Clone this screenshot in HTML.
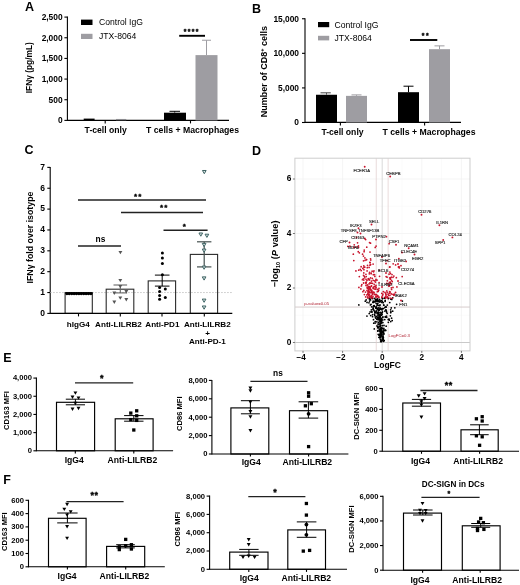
<!DOCTYPE html>
<html><head><meta charset="utf-8"><title>Figure</title>
<style>
html,body{margin:0;padding:0;background:#fff;}
body{width:520px;height:585px;overflow:hidden;}
svg{display:block;}
svg text{font-family:"Liberation Sans", Arial, sans-serif;}
</style></head><body>
<svg width="520" height="585" viewBox="0 0 520 585" shape-rendering="geometricPrecision">
<rect x="0" y="0" width="520" height="585" fill="#fff"/>
<text x="25" y="11.3" font-size="12.5" text-anchor="start" font-weight="bold" fill="#000">A</text>
<text x="252.1" y="12.8" font-size="12.5" text-anchor="start" font-weight="bold" fill="#000">B</text>
<text x="24.4" y="153.6" font-size="12.5" text-anchor="start" font-weight="bold" fill="#000">C</text>
<text x="252" y="155" font-size="12.5" text-anchor="start" font-weight="bold" fill="#000">D</text>
<text x="3.2" y="362.3" font-size="12.5" text-anchor="start" font-weight="bold" fill="#000">E</text>
<text x="3.2" y="483.8" font-size="12.5" text-anchor="start" font-weight="bold" fill="#000">F</text>
<line x1="67.4" y1="16.6" x2="67.4" y2="120.9" stroke="#000" stroke-width="1.1"/>
<line x1="64.4" y1="17.1" x2="67.4" y2="17.1" stroke="#000" stroke-width="1.1"/>
<text x="62.6" y="19.87" font-size="8.4" text-anchor="end" font-weight="bold" fill="#000">2,500</text>
<line x1="64.4" y1="37.76" x2="67.4" y2="37.76" stroke="#000" stroke-width="1.1"/>
<text x="62.6" y="40.53" font-size="8.4" text-anchor="end" font-weight="bold" fill="#000">2,000</text>
<line x1="64.4" y1="58.42" x2="67.4" y2="58.42" stroke="#000" stroke-width="1.1"/>
<text x="62.6" y="61.19" font-size="8.4" text-anchor="end" font-weight="bold" fill="#000">1,500</text>
<line x1="64.4" y1="79.08" x2="67.4" y2="79.08" stroke="#000" stroke-width="1.1"/>
<text x="62.6" y="81.85" font-size="8.4" text-anchor="end" font-weight="bold" fill="#000">1,000</text>
<line x1="64.4" y1="99.74" x2="67.4" y2="99.74" stroke="#000" stroke-width="1.1"/>
<text x="62.6" y="102.51" font-size="8.4" text-anchor="end" font-weight="bold" fill="#000">500</text>
<line x1="64.4" y1="120.4" x2="67.4" y2="120.4" stroke="#000" stroke-width="1.1"/>
<text x="62.6" y="123.17" font-size="8.4" text-anchor="end" font-weight="bold" fill="#000">0</text>
<line x1="67.4" y1="120.4" x2="229" y2="120.4" stroke="#000" stroke-width="1.1"/>
<line x1="105.2" y1="120.4" x2="105.2" y2="123.4" stroke="#000" stroke-width="1.1"/>
<line x1="190.5" y1="120.4" x2="190.5" y2="123.4" stroke="#000" stroke-width="1.1"/>
<line x1="83.7" y1="119.4" x2="94.6" y2="119.4" stroke="#000" stroke-width="1.6"/>
<line x1="116" y1="119.6" x2="126.3" y2="119.6" stroke="#8a8a8e" stroke-width="1.3"/>
<rect x="164" y="112.7" width="22" height="7.7" fill="#000"/>
<line x1="174.7" y1="112.55" x2="174.7" y2="111.3" stroke="#000" stroke-width="1"/>
<line x1="169.5" y1="111.3" x2="180" y2="111.3" stroke="#000" stroke-width="1"/>
<rect x="195.5" y="55.11" width="22" height="65.29" fill="#9e9da2"/>
<line x1="206.5" y1="55.11" x2="206.5" y2="40.24" stroke="#9e9da2" stroke-width="1"/>
<line x1="202" y1="40.24" x2="211" y2="40.24" stroke="#9e9da2" stroke-width="1"/>
<line x1="179.2" y1="35.8" x2="205" y2="35.8" stroke="#000" stroke-width="1.9"/>
<text x="185.1" y="33.55" font-size="6.8" text-anchor="middle" font-weight="bold" fill="#000" stroke="#000" stroke-width="0.35">*</text>
<text x="189.1" y="33.55" font-size="6.8" text-anchor="middle" font-weight="bold" fill="#000" stroke="#000" stroke-width="0.35">*</text>
<text x="193.1" y="33.55" font-size="6.8" text-anchor="middle" font-weight="bold" fill="#000" stroke="#000" stroke-width="0.35">*</text>
<text x="197.1" y="33.55" font-size="6.8" text-anchor="middle" font-weight="bold" fill="#000" stroke="#000" stroke-width="0.35">*</text>
<rect x="81" y="19.6" width="11.5" height="5.4" fill="#000"/>
<text x="99" y="25.3" font-size="8.6" text-anchor="start" font-weight="normal" fill="#000">Control IgG</text>
<rect x="81" y="33.8" width="11.5" height="5.2" fill="#9e9da2"/>
<text x="99" y="39.4" font-size="8.6" text-anchor="start" font-weight="normal" fill="#000">JTX-8064</text>
<text transform="translate(32.3,67.7) rotate(-90)" font-size="8.4" text-anchor="middle" font-weight="bold" fill="#000">IFNγ (pg/mL)</text>
<text x="105.7" y="132.6" font-size="8.65" text-anchor="middle" font-weight="bold" fill="#000">T-cell only</text>
<text x="192.55" y="132.6" font-size="8.7" text-anchor="middle" font-weight="bold" fill="#000">T cells + Macrophages</text>
<line x1="305" y1="18.25" x2="305" y2="123" stroke="#000" stroke-width="1.1"/>
<line x1="302" y1="18.75" x2="305" y2="18.75" stroke="#000" stroke-width="1.1"/>
<text x="299" y="21.52" font-size="8.4" text-anchor="end" font-weight="bold" fill="#000">15,000</text>
<line x1="302" y1="53.33" x2="305" y2="53.33" stroke="#000" stroke-width="1.1"/>
<text x="299" y="56.11" font-size="8.4" text-anchor="end" font-weight="bold" fill="#000">10,000</text>
<line x1="302" y1="87.92" x2="305" y2="87.92" stroke="#000" stroke-width="1.1"/>
<text x="299" y="90.69" font-size="8.4" text-anchor="end" font-weight="bold" fill="#000">5,000</text>
<line x1="302" y1="122.5" x2="305" y2="122.5" stroke="#000" stroke-width="1.1"/>
<text x="299" y="125.27" font-size="8.4" text-anchor="end" font-weight="bold" fill="#000">0</text>
<line x1="305" y1="122.4" x2="461" y2="122.4" stroke="#000" stroke-width="1.1"/>
<line x1="340.4" y1="122.4" x2="340.4" y2="125.4" stroke="#000" stroke-width="1.1"/>
<line x1="424.6" y1="122.4" x2="424.6" y2="125.4" stroke="#000" stroke-width="1.1"/>
<rect x="316" y="94.75" width="21" height="27.65" fill="#000"/>
<line x1="326.5" y1="94.75" x2="326.5" y2="92.8" stroke="#555" stroke-width="1"/>
<line x1="320.5" y1="92.8" x2="330.8" y2="92.8" stroke="#555" stroke-width="1.1"/>
<rect x="346" y="95.87" width="21" height="26.63" fill="#9e9da2"/>
<line x1="356.5" y1="95.87" x2="356.5" y2="94.9" stroke="#9e9da2" stroke-width="1"/>
<line x1="351.5" y1="94.9" x2="361.5" y2="94.9" stroke="#9e9da2" stroke-width="1"/>
<rect x="398" y="92.2" width="21" height="30.3" fill="#000"/>
<line x1="408.5" y1="92.2" x2="408.5" y2="86.19" stroke="#000" stroke-width="1"/>
<line x1="403.5" y1="86.19" x2="413.5" y2="86.19" stroke="#000" stroke-width="1"/>
<rect x="429" y="49.18" width="21" height="73.32" fill="#9e9da2"/>
<line x1="439.5" y1="49.18" x2="439.5" y2="45.86" stroke="#9e9da2" stroke-width="1"/>
<line x1="434.5" y1="45.86" x2="444.5" y2="45.86" stroke="#9e9da2" stroke-width="1"/>
<line x1="410" y1="40" x2="437.3" y2="40" stroke="#000" stroke-width="1.9"/>
<text x="423.1" y="37.65" font-size="6.8" text-anchor="middle" font-weight="bold" fill="#000" stroke="#000" stroke-width="0.35">*</text>
<text x="427.3" y="37.65" font-size="6.8" text-anchor="middle" font-weight="bold" fill="#000" stroke="#000" stroke-width="0.35">*</text>
<rect x="318" y="22" width="11.2" height="5.2" fill="#000"/>
<text x="334.5" y="27.6" font-size="8.6" text-anchor="start" font-weight="normal" fill="#000">Control IgG</text>
<rect x="318" y="35.8" width="11.2" height="4.6" fill="#9e9da2"/>
<text x="334.5" y="41.2" font-size="8.6" text-anchor="start" font-weight="normal" fill="#000">JTX-8064</text>
<text transform="translate(266.6,71.6) rotate(-90)" font-size="9" text-anchor="middle" font-weight="bold" fill="#000">Number of CD8<tspan dy="-3" font-size="5.5">+</tspan><tspan dy="3"> cells</tspan></text>
<text x="342.5" y="134.7" font-size="8.65" text-anchor="middle" font-weight="bold" fill="#000">T-cell only</text>
<text x="429.05" y="134.5" font-size="8.7" text-anchor="middle" font-weight="bold" fill="#000">T cells + Macrophages</text>
<line x1="50.2" y1="166.88" x2="50.2" y2="313.9" stroke="#000" stroke-width="1.1"/>
<line x1="47.3" y1="167.38" x2="50.2" y2="167.38" stroke="#000" stroke-width="1.1"/>
<text x="45" y="169.68" font-size="8.5" text-anchor="end" font-weight="bold" fill="#000">7</text>
<line x1="47.3" y1="188.24" x2="50.2" y2="188.24" stroke="#000" stroke-width="1.1"/>
<text x="45" y="190.54" font-size="8.5" text-anchor="end" font-weight="bold" fill="#000">6</text>
<line x1="47.3" y1="209.1" x2="50.2" y2="209.1" stroke="#000" stroke-width="1.1"/>
<text x="45" y="211.4" font-size="8.5" text-anchor="end" font-weight="bold" fill="#000">5</text>
<line x1="47.3" y1="229.96" x2="50.2" y2="229.96" stroke="#000" stroke-width="1.1"/>
<text x="45" y="232.26" font-size="8.5" text-anchor="end" font-weight="bold" fill="#000">4</text>
<line x1="47.3" y1="250.82" x2="50.2" y2="250.82" stroke="#000" stroke-width="1.1"/>
<text x="45" y="253.12" font-size="8.5" text-anchor="end" font-weight="bold" fill="#000">3</text>
<line x1="47.3" y1="271.68" x2="50.2" y2="271.68" stroke="#000" stroke-width="1.1"/>
<text x="45" y="273.98" font-size="8.5" text-anchor="end" font-weight="bold" fill="#000">2</text>
<line x1="47.3" y1="292.54" x2="50.2" y2="292.54" stroke="#000" stroke-width="1.1"/>
<text x="45" y="294.84" font-size="8.5" text-anchor="end" font-weight="bold" fill="#000">1</text>
<line x1="47.3" y1="313.4" x2="50.2" y2="313.4" stroke="#000" stroke-width="1.1"/>
<text x="45" y="315.7" font-size="8.5" text-anchor="end" font-weight="bold" fill="#000">0</text>
<line x1="50.2" y1="292.54" x2="232" y2="292.54" stroke="#b8b8b8" stroke-width="0.8" stroke-dasharray="1.5,1.5"/>
<rect x="65.1" y="292.54" width="27.2" height="20.86" fill="none" stroke="#2a2a2a" stroke-width="1.1"/>
<rect x="106.2" y="289.2" width="27.6" height="24.2" fill="none" stroke="#2a2a2a" stroke-width="1.1"/>
<rect x="148.2" y="280.9" width="27.4" height="32.5" fill="none" stroke="#2a2a2a" stroke-width="1.1"/>
<rect x="190.3" y="254.4" width="27.3" height="59" fill="none" stroke="#2a2a2a" stroke-width="1.1"/>
<line x1="50.2" y1="313.4" x2="232.3" y2="313.4" stroke="#000" stroke-width="1.1"/>
<line x1="78.5" y1="313.4" x2="78.5" y2="316.4" stroke="#000" stroke-width="1.1"/>
<line x1="120.3" y1="313.4" x2="120.3" y2="316.4" stroke="#000" stroke-width="1.1"/>
<line x1="162" y1="313.4" x2="162" y2="316.4" stroke="#000" stroke-width="1.1"/>
<line x1="204.3" y1="313.4" x2="204.3" y2="316.4" stroke="#000" stroke-width="1.1"/>
<circle cx="66.9" cy="293.6" r="1.7" fill="#000"/>
<circle cx="69.3" cy="293.6" r="1.7" fill="#000"/>
<circle cx="71.7" cy="293.6" r="1.7" fill="#000"/>
<circle cx="74.1" cy="293.6" r="1.7" fill="#000"/>
<circle cx="76.5" cy="293.6" r="1.7" fill="#000"/>
<circle cx="78.9" cy="293.6" r="1.7" fill="#000"/>
<circle cx="81.3" cy="293.6" r="1.7" fill="#000"/>
<circle cx="83.7" cy="293.6" r="1.7" fill="#000"/>
<circle cx="86.1" cy="293.6" r="1.7" fill="#000"/>
<circle cx="88.5" cy="293.6" r="1.7" fill="#000"/>
<circle cx="90.9" cy="293.6" r="1.7" fill="#000"/>
<line x1="120.3" y1="285" x2="120.3" y2="292.9" stroke="#666" stroke-width="1.1"/>
<line x1="113.5" y1="285" x2="127.1" y2="285" stroke="#666" stroke-width="1.1"/>
<line x1="113.5" y1="292.9" x2="127.1" y2="292.9" stroke="#666" stroke-width="1.1"/>
<polygon points="118.45,250.9 122.35,250.9 120.4,254.3" fill="#555"/>
<polygon points="118.35,278.9 122.25,278.9 120.3,282.3" fill="#555"/>
<polygon points="118.35,284.9 122.25,284.9 120.3,288.3" fill="#555"/>
<polygon points="112.35,291.5 116.25,291.5 114.3,294.9" fill="#555"/>
<polygon points="124.35,290.1 128.25,290.1 126.3,293.5" fill="#555"/>
<polygon points="118.35,296.4 122.25,296.4 120.3,299.8" fill="#555"/>
<polygon points="124.35,298 128.25,298 126.3,301.4" fill="#555"/>
<polygon points="112.35,300.5 116.25,300.5 114.3,303.9" fill="#555"/>
<line x1="162.2" y1="275.1" x2="162.2" y2="286.1" stroke="#000" stroke-width="1"/>
<line x1="154.9" y1="275.1" x2="169.5" y2="275.1" stroke="#000" stroke-width="1"/>
<line x1="154.9" y1="286.1" x2="169.5" y2="286.1" stroke="#000" stroke-width="1"/>
<circle cx="162.4" cy="253.1" r="1.5" fill="#000"/>
<circle cx="162.4" cy="258" r="1.5" fill="#000"/>
<circle cx="162.4" cy="263.4" r="1.5" fill="#000"/>
<circle cx="162.4" cy="274.8" r="1.5" fill="#000"/>
<circle cx="159.6" cy="287.4" r="1.5" fill="#000"/>
<circle cx="165.3" cy="289" r="1.5" fill="#000"/>
<circle cx="159.6" cy="291.5" r="1.5" fill="#000"/>
<circle cx="159.6" cy="295.6" r="1.5" fill="#000"/>
<circle cx="165.3" cy="297.5" r="1.5" fill="#000"/>
<circle cx="159.6" cy="299.2" r="1.5" fill="#000"/>
<line x1="204.2" y1="241.8" x2="204.2" y2="266.9" stroke="#45504f" stroke-width="1.2"/>
<line x1="197" y1="241.8" x2="211.4" y2="241.8" stroke="#45504f" stroke-width="1.2"/>
<line x1="197" y1="266.9" x2="211.4" y2="266.9" stroke="#45504f" stroke-width="1.2"/>
<polygon points="202.45,170.49 206.15,170.49 204.3,173.71" fill="#dfe8e8" stroke="#3e6464" stroke-width="1"/>
<polygon points="198.95,232.99 202.65,232.99 200.8,236.21" fill="#dfe8e8" stroke="#3e6464" stroke-width="1"/>
<polygon points="205.05,234.19 208.75,234.19 206.9,237.41" fill="#dfe8e8" stroke="#3e6464" stroke-width="1"/>
<polygon points="202.25,243.39 205.95,243.39 204.1,246.61" fill="#dfe8e8" stroke="#3e6464" stroke-width="1"/>
<polygon points="202.25,249.09 205.95,249.09 204.1,252.31" fill="#dfe8e8" stroke="#3e6464" stroke-width="1"/>
<polygon points="202.25,266.09 205.95,266.09 204.1,269.31" fill="#dfe8e8" stroke="#3e6464" stroke-width="1"/>
<polygon points="202.25,276.89 205.95,276.89 204.1,280.11" fill="#dfe8e8" stroke="#3e6464" stroke-width="1"/>
<polygon points="202.25,299.09 205.95,299.09 204.1,302.31" fill="#dfe8e8" stroke="#3e6464" stroke-width="1"/>
<polygon points="202.25,305.99 205.95,305.99 204.1,309.21" fill="#dfe8e8" stroke="#3e6464" stroke-width="1"/>
<line x1="78" y1="200" x2="206" y2="200" stroke="#222" stroke-width="1.4"/>
<text x="135.65" y="198.76" font-size="8" text-anchor="middle" font-weight="bold" fill="#000" stroke="#000" stroke-width="0.35">*</text>
<text x="139.75" y="198.76" font-size="8" text-anchor="middle" font-weight="bold" fill="#000" stroke="#000" stroke-width="0.35">*</text>
<line x1="121" y1="212.5" x2="203" y2="212.5" stroke="#222" stroke-width="1.4"/>
<text x="161.65" y="209.86" font-size="8" text-anchor="middle" font-weight="bold" fill="#000" stroke="#000" stroke-width="0.35">*</text>
<text x="165.75" y="209.86" font-size="8" text-anchor="middle" font-weight="bold" fill="#000" stroke="#000" stroke-width="0.35">*</text>
<line x1="163.5" y1="230.3" x2="207.6" y2="230.3" stroke="#222" stroke-width="1.4"/>
<text x="184.3" y="229.16" font-size="8" text-anchor="middle" font-weight="bold" fill="#000" stroke="#000" stroke-width="0.35">*</text>
<line x1="78" y1="246" x2="121" y2="246" stroke="#222" stroke-width="1.4"/>
<text x="100.5" y="242.2" font-size="8.4" text-anchor="middle" font-weight="bold" fill="#000">ns</text>
<text transform="translate(33,237.5) rotate(-90)" font-size="8.8" text-anchor="middle" font-weight="bold" fill="#000">IFNγ fold over isotype</text>
<text x="78.3" y="327" font-size="8.1" text-anchor="middle" font-weight="bold" fill="#000">hIgG4</text>
<text x="118.5" y="327" font-size="8.1" text-anchor="middle" font-weight="bold" fill="#000">Anti-LILRB2</text>
<text x="162.4" y="327" font-size="8.1" text-anchor="middle" font-weight="bold" fill="#000">Anti-PD1</text>
<text x="207.3" y="326.6" font-size="8.1" text-anchor="middle" font-weight="bold" fill="#000">Anti-LILRB2</text>
<text x="207.7" y="335.6" font-size="8.1" text-anchor="middle" font-weight="bold" fill="#000">+</text>
<text x="207.4" y="344.3" font-size="8.1" text-anchor="middle" font-weight="bold" fill="#000">Anti-PD-1</text>
<rect x="294.9" y="158.2" width="175.1" height="192.7" fill="#fff"/>
<clipPath id="dclip"><rect x="294.9" y="158.2" width="175.1" height="192.7"/></clipPath>
<g clip-path="url(#dclip)">
<line x1="322.8" y1="158.2" x2="322.8" y2="350.9" stroke="#f7f7f7" stroke-width="0.5"/>
<line x1="362.4" y1="158.2" x2="362.4" y2="350.9" stroke="#f7f7f7" stroke-width="0.5"/>
<line x1="402" y1="158.2" x2="402" y2="350.9" stroke="#f7f7f7" stroke-width="0.5"/>
<line x1="441.6" y1="158.2" x2="441.6" y2="350.9" stroke="#f7f7f7" stroke-width="0.5"/>
<line x1="294.9" y1="315.25" x2="470" y2="315.25" stroke="#f7f7f7" stroke-width="0.5"/>
<line x1="294.9" y1="260.75" x2="470" y2="260.75" stroke="#f7f7f7" stroke-width="0.5"/>
<line x1="294.9" y1="206.25" x2="470" y2="206.25" stroke="#f7f7f7" stroke-width="0.5"/>
<line x1="303" y1="158.2" x2="303" y2="350.9" stroke="#f0f0f0" stroke-width="0.7"/>
<line x1="342.6" y1="158.2" x2="342.6" y2="350.9" stroke="#f0f0f0" stroke-width="0.7"/>
<line x1="421.8" y1="158.2" x2="421.8" y2="350.9" stroke="#f0f0f0" stroke-width="0.7"/>
<line x1="461.4" y1="158.2" x2="461.4" y2="350.9" stroke="#f0f0f0" stroke-width="0.7"/>
<line x1="294.9" y1="288" x2="470" y2="288" stroke="#f0f0f0" stroke-width="0.7"/>
<line x1="294.9" y1="233.5" x2="470" y2="233.5" stroke="#f0f0f0" stroke-width="0.7"/>
<line x1="294.9" y1="179" x2="470" y2="179" stroke="#f0f0f0" stroke-width="0.7"/>
<line x1="294.9" y1="342.5" x2="470" y2="342.5" stroke="#c9c9c9" stroke-width="1"/>
<line x1="294.9" y1="307.05" x2="470" y2="307.05" stroke="#d2c6c6" stroke-width="0.9"/>
<line x1="382.2" y1="158.2" x2="382.2" y2="350.9" stroke="#d0d0d0" stroke-width="0.8"/>
<line x1="376.26" y1="158.2" x2="376.26" y2="350.9" stroke="#e0cccc" stroke-width="0.7"/>
<line x1="388.14" y1="158.2" x2="388.14" y2="350.9" stroke="#e0cccc" stroke-width="0.7"/>
<text x="304.2" y="304.6" font-size="4.3" text-anchor="start" font-weight="normal" fill="#b02030">p-value=0.05</text>
<text x="388.6" y="336.6" font-size="4.3" text-anchor="start" font-weight="normal" fill="#b02030">LogFC=0.3</text>
<circle cx="373.48" cy="319.73" r="0.88" fill="#000"/>
<circle cx="377" cy="319.16" r="0.88" fill="#000"/>
<circle cx="377.5" cy="317.38" r="0.88" fill="#000"/>
<circle cx="378.11" cy="317.21" r="0.88" fill="#000"/>
<circle cx="378.81" cy="312.33" r="0.88" fill="#000"/>
<circle cx="379.42" cy="326.28" r="0.88" fill="#000"/>
<circle cx="382.86" cy="336.69" r="0.88" fill="#000"/>
<circle cx="380.34" cy="339.49" r="0.88" fill="#000"/>
<circle cx="382.63" cy="298.49" r="0.88" fill="#000"/>
<circle cx="377.43" cy="312.91" r="0.88" fill="#000"/>
<circle cx="383.72" cy="333.21" r="0.88" fill="#000"/>
<circle cx="382.37" cy="338.44" r="0.88" fill="#000"/>
<circle cx="381.23" cy="331.6" r="0.88" fill="#000"/>
<circle cx="380.12" cy="319.24" r="0.88" fill="#000"/>
<circle cx="381.42" cy="320.24" r="0.88" fill="#000"/>
<circle cx="374.9" cy="311.91" r="0.88" fill="#000"/>
<circle cx="377.46" cy="317.72" r="0.88" fill="#000"/>
<circle cx="378.45" cy="327.44" r="0.88" fill="#000"/>
<circle cx="384.79" cy="297.9" r="0.88" fill="#000"/>
<circle cx="377.77" cy="309.19" r="0.88" fill="#000"/>
<circle cx="380.61" cy="325.75" r="0.88" fill="#000"/>
<circle cx="383.37" cy="337.83" r="0.88" fill="#000"/>
<circle cx="371.69" cy="306.86" r="0.88" fill="#000"/>
<circle cx="382.89" cy="322.58" r="0.88" fill="#000"/>
<circle cx="376.61" cy="299.41" r="0.88" fill="#000"/>
<circle cx="381.02" cy="330.65" r="0.88" fill="#000"/>
<circle cx="365.27" cy="301.24" r="0.88" fill="#000"/>
<circle cx="381.23" cy="322.1" r="0.88" fill="#000"/>
<circle cx="380.26" cy="337.67" r="0.88" fill="#000"/>
<circle cx="377.82" cy="327.83" r="0.88" fill="#000"/>
<circle cx="379.94" cy="336.88" r="0.88" fill="#000"/>
<circle cx="386.07" cy="307.19" r="0.88" fill="#000"/>
<circle cx="381.76" cy="335.23" r="0.88" fill="#000"/>
<circle cx="382.89" cy="338.42" r="0.88" fill="#000"/>
<circle cx="379.61" cy="305.65" r="0.88" fill="#000"/>
<circle cx="382.77" cy="319.94" r="0.88" fill="#000"/>
<circle cx="381.09" cy="331.57" r="0.88" fill="#000"/>
<circle cx="376.53" cy="311.77" r="0.88" fill="#000"/>
<circle cx="380.71" cy="335.31" r="0.88" fill="#000"/>
<circle cx="381.41" cy="327.82" r="0.88" fill="#000"/>
<circle cx="377.68" cy="298.92" r="0.88" fill="#000"/>
<circle cx="373.63" cy="302.22" r="0.88" fill="#000"/>
<circle cx="377.89" cy="330.61" r="0.88" fill="#000"/>
<circle cx="382.47" cy="311.84" r="0.88" fill="#000"/>
<circle cx="383.01" cy="336.17" r="0.88" fill="#000"/>
<circle cx="380.64" cy="328.36" r="0.88" fill="#000"/>
<circle cx="376.06" cy="306.61" r="0.88" fill="#000"/>
<circle cx="383.22" cy="337.65" r="0.88" fill="#000"/>
<circle cx="380.91" cy="336.72" r="0.88" fill="#000"/>
<circle cx="377.36" cy="313.5" r="0.88" fill="#000"/>
<circle cx="373.73" cy="323.23" r="0.88" fill="#000"/>
<circle cx="381.45" cy="318.39" r="0.88" fill="#000"/>
<circle cx="380.1" cy="314.6" r="0.88" fill="#000"/>
<circle cx="380.59" cy="333.38" r="0.88" fill="#000"/>
<circle cx="378.12" cy="301.31" r="0.88" fill="#000"/>
<circle cx="379.85" cy="331.62" r="0.88" fill="#000"/>
<circle cx="380.05" cy="307.92" r="0.88" fill="#000"/>
<circle cx="375.54" cy="299.71" r="0.88" fill="#000"/>
<circle cx="373.54" cy="302.33" r="0.88" fill="#000"/>
<circle cx="380.79" cy="335.98" r="0.88" fill="#000"/>
<circle cx="383.38" cy="339.68" r="0.88" fill="#000"/>
<circle cx="377.35" cy="309.31" r="0.88" fill="#000"/>
<circle cx="382.08" cy="328.42" r="0.88" fill="#000"/>
<circle cx="377.69" cy="326.74" r="0.88" fill="#000"/>
<circle cx="381.18" cy="332.32" r="0.88" fill="#000"/>
<circle cx="380.16" cy="329.76" r="0.88" fill="#000"/>
<circle cx="381.46" cy="315.23" r="0.88" fill="#000"/>
<circle cx="378.06" cy="327.34" r="0.88" fill="#000"/>
<circle cx="376.98" cy="300.97" r="0.88" fill="#000"/>
<circle cx="381.06" cy="327.85" r="0.88" fill="#000"/>
<circle cx="381.16" cy="320.01" r="0.88" fill="#000"/>
<circle cx="380.61" cy="323.36" r="0.88" fill="#000"/>
<circle cx="380.81" cy="314.7" r="0.88" fill="#000"/>
<circle cx="379.79" cy="301.99" r="0.88" fill="#000"/>
<circle cx="372.7" cy="298.55" r="0.88" fill="#000"/>
<circle cx="374.53" cy="314.19" r="0.88" fill="#000"/>
<circle cx="381.9" cy="334.08" r="0.88" fill="#000"/>
<circle cx="376.97" cy="301.24" r="0.88" fill="#000"/>
<circle cx="378.72" cy="309.46" r="0.88" fill="#000"/>
<circle cx="378.21" cy="312.07" r="0.88" fill="#000"/>
<circle cx="378.99" cy="318.46" r="0.88" fill="#000"/>
<circle cx="372.45" cy="297.83" r="0.88" fill="#000"/>
<circle cx="379.65" cy="337.54" r="0.88" fill="#000"/>
<circle cx="374.91" cy="301.63" r="0.88" fill="#000"/>
<circle cx="375.9" cy="308.02" r="0.88" fill="#000"/>
<circle cx="369.63" cy="301.06" r="0.88" fill="#000"/>
<circle cx="377.97" cy="324.11" r="0.88" fill="#000"/>
<circle cx="368.97" cy="302.76" r="0.88" fill="#000"/>
<circle cx="381.08" cy="321.24" r="0.88" fill="#000"/>
<circle cx="372.55" cy="314.67" r="0.88" fill="#000"/>
<circle cx="375.15" cy="312.53" r="0.88" fill="#000"/>
<circle cx="381.49" cy="313.19" r="0.88" fill="#000"/>
<circle cx="378.86" cy="337.27" r="0.88" fill="#000"/>
<circle cx="367" cy="302.42" r="0.88" fill="#000"/>
<circle cx="373.27" cy="308.37" r="0.88" fill="#000"/>
<circle cx="382.1" cy="314.33" r="0.88" fill="#000"/>
<circle cx="380.18" cy="320.24" r="0.88" fill="#000"/>
<circle cx="376.38" cy="307.5" r="0.88" fill="#000"/>
<circle cx="381.22" cy="340.24" r="0.88" fill="#000"/>
<circle cx="379.49" cy="329.68" r="0.88" fill="#000"/>
<circle cx="373.06" cy="309.56" r="0.88" fill="#000"/>
<circle cx="376.84" cy="300.85" r="0.88" fill="#000"/>
<circle cx="382.62" cy="328.47" r="0.88" fill="#000"/>
<circle cx="378.34" cy="310.38" r="0.88" fill="#000"/>
<circle cx="383.25" cy="331" r="0.88" fill="#000"/>
<circle cx="384.83" cy="311.11" r="0.88" fill="#000"/>
<circle cx="381.49" cy="320.18" r="0.88" fill="#000"/>
<circle cx="376.25" cy="310.87" r="0.88" fill="#000"/>
<circle cx="377.85" cy="331.19" r="0.88" fill="#000"/>
<circle cx="379.97" cy="301.09" r="0.88" fill="#000"/>
<circle cx="372.91" cy="302.4" r="0.88" fill="#000"/>
<circle cx="382.47" cy="325.69" r="0.88" fill="#000"/>
<circle cx="378.2" cy="334.29" r="0.88" fill="#000"/>
<circle cx="377.31" cy="303.63" r="0.88" fill="#000"/>
<circle cx="380.7" cy="309.05" r="0.88" fill="#000"/>
<circle cx="380.89" cy="332.63" r="0.88" fill="#000"/>
<circle cx="379.19" cy="319.8" r="0.88" fill="#000"/>
<circle cx="381.59" cy="321.38" r="0.88" fill="#000"/>
<circle cx="375.5" cy="312.5" r="0.88" fill="#000"/>
<circle cx="377.33" cy="304" r="0.88" fill="#000"/>
<circle cx="374.75" cy="298.49" r="0.88" fill="#000"/>
<circle cx="382.61" cy="340.14" r="0.88" fill="#000"/>
<circle cx="383.2" cy="302.69" r="0.88" fill="#000"/>
<circle cx="380.06" cy="314.76" r="0.88" fill="#000"/>
<circle cx="380.52" cy="326.03" r="0.88" fill="#000"/>
<circle cx="381.27" cy="334.31" r="0.88" fill="#000"/>
<circle cx="384.77" cy="319.62" r="0.88" fill="#000"/>
<circle cx="381.51" cy="329.34" r="0.88" fill="#000"/>
<circle cx="383.99" cy="334.05" r="0.88" fill="#000"/>
<circle cx="380.68" cy="319.98" r="0.88" fill="#000"/>
<circle cx="374.96" cy="312.33" r="0.88" fill="#000"/>
<circle cx="370.04" cy="299.39" r="0.88" fill="#000"/>
<circle cx="379.35" cy="310.12" r="0.88" fill="#000"/>
<circle cx="383.38" cy="332.16" r="0.88" fill="#000"/>
<circle cx="380.7" cy="341.55" r="0.88" fill="#000"/>
<circle cx="381.82" cy="332.14" r="0.88" fill="#000"/>
<circle cx="378.66" cy="327.71" r="0.88" fill="#000"/>
<circle cx="382.96" cy="316.85" r="0.88" fill="#000"/>
<circle cx="378.63" cy="312.96" r="0.88" fill="#000"/>
<circle cx="373.62" cy="305.85" r="0.88" fill="#000"/>
<circle cx="385.1" cy="301.4" r="0.88" fill="#000"/>
<circle cx="382.29" cy="308.6" r="0.88" fill="#000"/>
<circle cx="379.28" cy="334.61" r="0.88" fill="#000"/>
<circle cx="378.49" cy="301.25" r="0.88" fill="#000"/>
<circle cx="375.1" cy="323.01" r="0.88" fill="#000"/>
<circle cx="374.11" cy="305.66" r="0.88" fill="#000"/>
<circle cx="370.56" cy="299.94" r="0.88" fill="#000"/>
<circle cx="381.77" cy="330.89" r="0.88" fill="#000"/>
<circle cx="380.05" cy="308.62" r="0.88" fill="#000"/>
<circle cx="373.16" cy="308.79" r="0.88" fill="#000"/>
<circle cx="385.73" cy="330.48" r="0.88" fill="#000"/>
<circle cx="369.21" cy="298.67" r="0.88" fill="#000"/>
<circle cx="379.66" cy="316.16" r="0.88" fill="#000"/>
<circle cx="373.24" cy="301.25" r="0.88" fill="#000"/>
<circle cx="376.13" cy="303.35" r="0.88" fill="#000"/>
<circle cx="380.51" cy="320.22" r="0.88" fill="#000"/>
<circle cx="379.3" cy="315.6" r="0.88" fill="#000"/>
<circle cx="380.93" cy="340.33" r="0.88" fill="#000"/>
<circle cx="383.81" cy="305.17" r="0.88" fill="#000"/>
<circle cx="382.68" cy="332.45" r="0.88" fill="#000"/>
<circle cx="380.55" cy="324.86" r="0.88" fill="#000"/>
<circle cx="380.53" cy="333.66" r="0.88" fill="#000"/>
<circle cx="378.13" cy="317.01" r="0.88" fill="#000"/>
<circle cx="371.35" cy="309.92" r="0.88" fill="#000"/>
<circle cx="366.15" cy="299.88" r="0.88" fill="#000"/>
<circle cx="382.17" cy="336.95" r="0.88" fill="#000"/>
<circle cx="379.29" cy="330.09" r="0.88" fill="#000"/>
<circle cx="377.32" cy="308.35" r="0.88" fill="#000"/>
<circle cx="371.86" cy="311.96" r="0.88" fill="#000"/>
<circle cx="377.96" cy="315.2" r="0.88" fill="#000"/>
<circle cx="376.99" cy="325.91" r="0.88" fill="#000"/>
<circle cx="382.31" cy="301.62" r="0.88" fill="#000"/>
<circle cx="384.26" cy="330.72" r="0.88" fill="#000"/>
<circle cx="372.55" cy="316.69" r="0.88" fill="#000"/>
<circle cx="379.95" cy="314.66" r="0.88" fill="#000"/>
<circle cx="382.71" cy="317.57" r="0.88" fill="#000"/>
<circle cx="387.16" cy="313.34" r="0.88" fill="#000"/>
<circle cx="380.49" cy="317.03" r="0.88" fill="#000"/>
<circle cx="380.9" cy="321.96" r="0.88" fill="#000"/>
<circle cx="375.63" cy="318.08" r="0.88" fill="#000"/>
<circle cx="382.1" cy="309.86" r="0.88" fill="#000"/>
<circle cx="381.09" cy="321.39" r="0.88" fill="#000"/>
<circle cx="379.57" cy="299.45" r="0.88" fill="#000"/>
<circle cx="378.29" cy="318.84" r="0.88" fill="#000"/>
<circle cx="378.73" cy="334.77" r="0.88" fill="#000"/>
<circle cx="379.95" cy="301.62" r="0.88" fill="#000"/>
<circle cx="378.56" cy="318.7" r="0.88" fill="#000"/>
<circle cx="380.47" cy="312.82" r="0.88" fill="#000"/>
<circle cx="381.76" cy="300.67" r="0.88" fill="#000"/>
<circle cx="384.2" cy="340.7" r="0.88" fill="#000"/>
<circle cx="381.61" cy="331.41" r="0.88" fill="#000"/>
<circle cx="383.98" cy="325.44" r="0.88" fill="#000"/>
<circle cx="379.23" cy="323.95" r="0.88" fill="#000"/>
<circle cx="376.64" cy="308.26" r="0.88" fill="#000"/>
<circle cx="380.39" cy="334.98" r="0.88" fill="#000"/>
<circle cx="381.06" cy="331.23" r="0.88" fill="#000"/>
<circle cx="376.25" cy="316.43" r="0.88" fill="#000"/>
<circle cx="380.75" cy="321.41" r="0.88" fill="#000"/>
<circle cx="380.13" cy="316.48" r="0.88" fill="#000"/>
<circle cx="380.33" cy="312.27" r="0.88" fill="#000"/>
<circle cx="371.83" cy="311.98" r="0.88" fill="#000"/>
<circle cx="377.32" cy="313.07" r="0.88" fill="#000"/>
<circle cx="377.82" cy="303.31" r="0.88" fill="#000"/>
<circle cx="383.74" cy="305.12" r="0.88" fill="#000"/>
<circle cx="375.38" cy="301.53" r="0.88" fill="#000"/>
<circle cx="380.09" cy="300.76" r="0.88" fill="#000"/>
<circle cx="385.36" cy="330.25" r="0.88" fill="#000"/>
<circle cx="381.58" cy="334.41" r="0.88" fill="#000"/>
<circle cx="380.62" cy="329.24" r="0.88" fill="#000"/>
<circle cx="380.65" cy="336.35" r="0.88" fill="#000"/>
<circle cx="371.07" cy="304.27" r="0.88" fill="#000"/>
<circle cx="383.14" cy="334.82" r="0.88" fill="#000"/>
<circle cx="379.59" cy="321.87" r="0.88" fill="#000"/>
<circle cx="380.78" cy="331.08" r="0.88" fill="#000"/>
<circle cx="385.99" cy="310.21" r="0.88" fill="#000"/>
<circle cx="379.39" cy="335.37" r="0.88" fill="#000"/>
<circle cx="379.34" cy="317.47" r="0.88" fill="#000"/>
<circle cx="373.9" cy="310.07" r="0.88" fill="#000"/>
<circle cx="382.06" cy="331.66" r="0.88" fill="#000"/>
<circle cx="382.68" cy="339.76" r="0.88" fill="#000"/>
<circle cx="374.81" cy="315.55" r="0.88" fill="#000"/>
<circle cx="381.3" cy="333.76" r="0.88" fill="#000"/>
<circle cx="382.32" cy="331.87" r="0.88" fill="#000"/>
<circle cx="384.44" cy="298.18" r="0.88" fill="#000"/>
<circle cx="377.96" cy="300.6" r="0.88" fill="#000"/>
<circle cx="377.43" cy="299.66" r="0.88" fill="#000"/>
<circle cx="379.66" cy="319.31" r="0.88" fill="#000"/>
<circle cx="376.84" cy="319.11" r="0.88" fill="#000"/>
<circle cx="375.37" cy="317.06" r="0.88" fill="#000"/>
<circle cx="383.36" cy="341.37" r="0.88" fill="#000"/>
<circle cx="379.26" cy="309.46" r="0.88" fill="#000"/>
<circle cx="377.98" cy="319.66" r="0.88" fill="#000"/>
<circle cx="375.75" cy="307.93" r="0.88" fill="#000"/>
<circle cx="382.09" cy="332.83" r="0.88" fill="#000"/>
<circle cx="385.49" cy="317.18" r="0.88" fill="#000"/>
<circle cx="378.21" cy="305.46" r="0.88" fill="#000"/>
<circle cx="381.22" cy="309.31" r="0.88" fill="#000"/>
<circle cx="376.87" cy="321.79" r="0.88" fill="#000"/>
<circle cx="369.22" cy="313.57" r="0.88" fill="#000"/>
<circle cx="377.1" cy="305.34" r="0.88" fill="#000"/>
<circle cx="383.84" cy="328.36" r="0.88" fill="#000"/>
<circle cx="374.22" cy="306.4" r="0.88" fill="#000"/>
<circle cx="370.42" cy="304.96" r="0.88" fill="#000"/>
<circle cx="381.85" cy="302.42" r="0.88" fill="#000"/>
<circle cx="378.69" cy="309.71" r="0.88" fill="#000"/>
<circle cx="375.21" cy="321.74" r="0.88" fill="#000"/>
<circle cx="380.88" cy="308.59" r="0.88" fill="#000"/>
<circle cx="380.52" cy="319.03" r="0.88" fill="#000"/>
<circle cx="381.55" cy="341.56" r="0.88" fill="#000"/>
<circle cx="382.22" cy="312.57" r="0.88" fill="#000"/>
<circle cx="383.88" cy="329.59" r="0.88" fill="#000"/>
<circle cx="378.96" cy="324.73" r="0.88" fill="#000"/>
<circle cx="374.36" cy="311.12" r="0.88" fill="#000"/>
<circle cx="378.5" cy="322.44" r="0.88" fill="#000"/>
<circle cx="371.98" cy="297.81" r="0.88" fill="#000"/>
<circle cx="373.08" cy="307.04" r="0.88" fill="#000"/>
<circle cx="382.4" cy="298.57" r="0.88" fill="#000"/>
<circle cx="378.5" cy="307.95" r="0.88" fill="#000"/>
<circle cx="380.17" cy="328.44" r="0.88" fill="#000"/>
<circle cx="381.55" cy="331.34" r="0.88" fill="#000"/>
<circle cx="381.58" cy="323.06" r="0.88" fill="#000"/>
<circle cx="378.66" cy="301.42" r="0.88" fill="#000"/>
<circle cx="370.69" cy="315.61" r="0.88" fill="#000"/>
<circle cx="378.37" cy="314.87" r="0.88" fill="#000"/>
<circle cx="371.12" cy="298" r="0.88" fill="#000"/>
<circle cx="379.91" cy="337.49" r="0.88" fill="#000"/>
<circle cx="378.66" cy="313.65" r="0.88" fill="#000"/>
<circle cx="375.4" cy="300.48" r="0.88" fill="#000"/>
<circle cx="380.31" cy="333.09" r="0.88" fill="#000"/>
<circle cx="379.54" cy="317.9" r="0.88" fill="#000"/>
<circle cx="394.82" cy="307.77" r="0.88" fill="#000"/>
<circle cx="390.71" cy="312.65" r="0.88" fill="#000"/>
<circle cx="385.83" cy="309.93" r="0.88" fill="#000"/>
<circle cx="386.51" cy="316.11" r="0.88" fill="#000"/>
<circle cx="385.89" cy="306.64" r="0.88" fill="#000"/>
<circle cx="387.24" cy="305.07" r="0.88" fill="#000"/>
<circle cx="390.36" cy="315.84" r="0.88" fill="#000"/>
<circle cx="388.34" cy="322.33" r="0.88" fill="#000"/>
<circle cx="388.23" cy="319.41" r="0.88" fill="#000"/>
<circle cx="385.19" cy="300.43" r="0.88" fill="#000"/>
<circle cx="396.6" cy="304.26" r="0.88" fill="#000"/>
<circle cx="390.9" cy="299.23" r="0.88" fill="#000"/>
<circle cx="390.75" cy="321.54" r="0.88" fill="#000"/>
<circle cx="386.38" cy="311.19" r="0.88" fill="#000"/>
<circle cx="388.28" cy="298.5" r="0.88" fill="#000"/>
<circle cx="391.75" cy="299.42" r="0.88" fill="#000"/>
<circle cx="380.06" cy="304.91" r="0.88" fill="#000"/>
<circle cx="389.77" cy="302.51" r="0.88" fill="#000"/>
<circle cx="391.26" cy="307.96" r="0.88" fill="#000"/>
<circle cx="390.89" cy="311.75" r="0.88" fill="#000"/>
<circle cx="391.59" cy="318.21" r="0.88" fill="#000"/>
<circle cx="389.31" cy="320.24" r="0.88" fill="#000"/>
<circle cx="386.52" cy="312.08" r="0.88" fill="#000"/>
<circle cx="385.29" cy="316.71" r="0.88" fill="#000"/>
<circle cx="383.63" cy="308.51" r="0.88" fill="#000"/>
<circle cx="390.64" cy="309.83" r="0.88" fill="#000"/>
<circle cx="392.76" cy="297.87" r="0.88" fill="#000"/>
<circle cx="386.72" cy="317.32" r="0.88" fill="#000"/>
<circle cx="392.2" cy="320.51" r="0.88" fill="#000"/>
<circle cx="384.89" cy="307.42" r="0.88" fill="#000"/>
<circle cx="358.84" cy="304.89" r="0.88" fill="#000"/>
<circle cx="366.95" cy="316.07" r="0.88" fill="#000"/>
<circle cx="370.12" cy="311.98" r="0.88" fill="#000"/>
<circle cx="389.13" cy="319.06" r="0.88" fill="#000"/>
<circle cx="392.69" cy="311.16" r="0.88" fill="#000"/>
<circle cx="402.4" cy="301.08" r="0.88" fill="#000"/>
<circle cx="386.16" cy="326.15" r="0.88" fill="#000"/>
<circle cx="374.28" cy="328.88" r="0.88" fill="#000"/>
<circle cx="368.87" cy="291.45" r="0.88" fill="#c8142c"/>
<circle cx="364.37" cy="276.5" r="0.88" fill="#c8142c"/>
<circle cx="388.81" cy="295.49" r="0.88" fill="#c8142c"/>
<circle cx="356.51" cy="237.5" r="0.88" fill="#c8142c"/>
<circle cx="371.26" cy="286.28" r="0.88" fill="#c8142c"/>
<circle cx="387.25" cy="296.88" r="0.88" fill="#c8142c"/>
<circle cx="369.28" cy="273.77" r="0.88" fill="#c8142c"/>
<circle cx="366.22" cy="276.62" r="0.88" fill="#c8142c"/>
<circle cx="374.98" cy="289.17" r="0.88" fill="#c8142c"/>
<circle cx="390.52" cy="273.51" r="0.88" fill="#c8142c"/>
<circle cx="389.63" cy="285.04" r="0.88" fill="#c8142c"/>
<circle cx="386.01" cy="295.09" r="0.88" fill="#c8142c"/>
<circle cx="390.13" cy="292.08" r="0.88" fill="#c8142c"/>
<circle cx="386.46" cy="236.68" r="0.88" fill="#c8142c"/>
<circle cx="393.18" cy="263.8" r="0.88" fill="#c8142c"/>
<circle cx="378.98" cy="288.31" r="0.88" fill="#c8142c"/>
<circle cx="377.29" cy="296.47" r="0.88" fill="#c8142c"/>
<circle cx="369.06" cy="283.89" r="0.88" fill="#c8142c"/>
<circle cx="385.67" cy="297.28" r="0.88" fill="#c8142c"/>
<circle cx="373.36" cy="274.7" r="0.88" fill="#c8142c"/>
<circle cx="390.39" cy="282.22" r="0.88" fill="#c8142c"/>
<circle cx="366.82" cy="294.99" r="0.88" fill="#c8142c"/>
<circle cx="377.62" cy="295.63" r="0.88" fill="#c8142c"/>
<circle cx="396.92" cy="286.88" r="0.88" fill="#c8142c"/>
<circle cx="362.83" cy="268.44" r="0.88" fill="#c8142c"/>
<circle cx="367.11" cy="287.23" r="0.88" fill="#c8142c"/>
<circle cx="358.43" cy="245.95" r="0.88" fill="#c8142c"/>
<circle cx="367.32" cy="288.51" r="0.88" fill="#c8142c"/>
<circle cx="373.2" cy="280.27" r="0.88" fill="#c8142c"/>
<circle cx="391.36" cy="287.76" r="0.88" fill="#c8142c"/>
<circle cx="363.97" cy="267.34" r="0.88" fill="#c8142c"/>
<circle cx="364.76" cy="267.15" r="0.88" fill="#c8142c"/>
<circle cx="377.05" cy="280.08" r="0.88" fill="#c8142c"/>
<circle cx="387.53" cy="297.45" r="0.88" fill="#c8142c"/>
<circle cx="370.65" cy="264.53" r="0.88" fill="#c8142c"/>
<circle cx="389.56" cy="267.11" r="0.88" fill="#c8142c"/>
<circle cx="374.86" cy="276.44" r="0.88" fill="#c8142c"/>
<circle cx="393.88" cy="294.52" r="0.88" fill="#c8142c"/>
<circle cx="361.14" cy="266.75" r="0.88" fill="#c8142c"/>
<circle cx="370.03" cy="289.37" r="0.88" fill="#c8142c"/>
<circle cx="400.97" cy="265.63" r="0.88" fill="#c8142c"/>
<circle cx="392.24" cy="281.58" r="0.88" fill="#c8142c"/>
<circle cx="386.66" cy="283.38" r="0.88" fill="#c8142c"/>
<circle cx="349.92" cy="246.16" r="0.88" fill="#c8142c"/>
<circle cx="399.33" cy="267.97" r="0.88" fill="#c8142c"/>
<circle cx="386.78" cy="290.9" r="0.88" fill="#c8142c"/>
<circle cx="389.8" cy="277.76" r="0.88" fill="#c8142c"/>
<circle cx="367.95" cy="293.37" r="0.88" fill="#c8142c"/>
<circle cx="390.36" cy="279.07" r="0.88" fill="#c8142c"/>
<circle cx="390.56" cy="277.97" r="0.88" fill="#c8142c"/>
<circle cx="365.7" cy="296.95" r="0.88" fill="#c8142c"/>
<circle cx="369.57" cy="279.95" r="0.88" fill="#c8142c"/>
<circle cx="373.31" cy="292.5" r="0.88" fill="#c8142c"/>
<circle cx="389.15" cy="286.05" r="0.88" fill="#c8142c"/>
<circle cx="374.54" cy="294.23" r="0.88" fill="#c8142c"/>
<circle cx="381.77" cy="293.27" r="0.88" fill="#c8142c"/>
<circle cx="368.72" cy="291.78" r="0.88" fill="#c8142c"/>
<circle cx="358.52" cy="247.43" r="0.88" fill="#c8142c"/>
<circle cx="399.01" cy="266.53" r="0.88" fill="#c8142c"/>
<circle cx="359.33" cy="252.8" r="0.88" fill="#c8142c"/>
<circle cx="378.24" cy="291.36" r="0.88" fill="#c8142c"/>
<circle cx="371.46" cy="298.12" r="0.88" fill="#c8142c"/>
<circle cx="373.2" cy="288.23" r="0.88" fill="#c8142c"/>
<circle cx="364.39" cy="294.62" r="0.88" fill="#c8142c"/>
<circle cx="370.6" cy="289.89" r="0.88" fill="#c8142c"/>
<circle cx="379.55" cy="276.27" r="0.88" fill="#c8142c"/>
<circle cx="393.85" cy="276.12" r="0.88" fill="#c8142c"/>
<circle cx="392.06" cy="298.34" r="0.88" fill="#c8142c"/>
<circle cx="381.83" cy="297.18" r="0.88" fill="#c8142c"/>
<circle cx="373.96" cy="270.87" r="0.88" fill="#c8142c"/>
<circle cx="369.1" cy="267.4" r="0.88" fill="#c8142c"/>
<circle cx="360.24" cy="269.31" r="0.88" fill="#c8142c"/>
<circle cx="364.83" cy="277.8" r="0.88" fill="#c8142c"/>
<circle cx="375.41" cy="282.1" r="0.88" fill="#c8142c"/>
<circle cx="378.7" cy="290.24" r="0.88" fill="#c8142c"/>
<circle cx="363.84" cy="290.4" r="0.88" fill="#c8142c"/>
<circle cx="371.24" cy="273.03" r="0.88" fill="#c8142c"/>
<circle cx="358.9" cy="287.43" r="0.88" fill="#c8142c"/>
<circle cx="391.19" cy="283.9" r="0.88" fill="#c8142c"/>
<circle cx="370.13" cy="288.03" r="0.88" fill="#c8142c"/>
<circle cx="367.35" cy="285" r="0.88" fill="#c8142c"/>
<circle cx="363.8" cy="265.96" r="0.88" fill="#c8142c"/>
<circle cx="367.93" cy="288.07" r="0.88" fill="#c8142c"/>
<circle cx="368.76" cy="290.64" r="0.88" fill="#c8142c"/>
<circle cx="392.1" cy="294.32" r="0.88" fill="#c8142c"/>
<circle cx="363.93" cy="269.69" r="0.88" fill="#c8142c"/>
<circle cx="379.51" cy="270.31" r="0.88" fill="#c8142c"/>
<circle cx="370.76" cy="260.12" r="0.88" fill="#c8142c"/>
<circle cx="371.19" cy="273.67" r="0.88" fill="#c8142c"/>
<circle cx="382.57" cy="295.65" r="0.88" fill="#c8142c"/>
<circle cx="376.94" cy="296.3" r="0.88" fill="#c8142c"/>
<circle cx="375.03" cy="294.63" r="0.88" fill="#c8142c"/>
<circle cx="370.5" cy="243.13" r="0.88" fill="#c8142c"/>
<circle cx="365.66" cy="282.73" r="0.88" fill="#c8142c"/>
<circle cx="383.34" cy="291.71" r="0.88" fill="#c8142c"/>
<circle cx="375.68" cy="286.77" r="0.88" fill="#c8142c"/>
<circle cx="389.12" cy="243.66" r="0.88" fill="#c8142c"/>
<circle cx="388.14" cy="283.65" r="0.88" fill="#c8142c"/>
<circle cx="370.53" cy="289.22" r="0.88" fill="#c8142c"/>
<circle cx="385.34" cy="296.82" r="0.88" fill="#c8142c"/>
<circle cx="392.02" cy="274.59" r="0.88" fill="#c8142c"/>
<circle cx="372.64" cy="294.6" r="0.88" fill="#c8142c"/>
<circle cx="360.87" cy="288.88" r="0.88" fill="#c8142c"/>
<circle cx="368.43" cy="295.02" r="0.88" fill="#c8142c"/>
<circle cx="355.91" cy="270.96" r="0.88" fill="#c8142c"/>
<circle cx="393.97" cy="295.36" r="0.88" fill="#c8142c"/>
<circle cx="369.47" cy="296.46" r="0.88" fill="#c8142c"/>
<circle cx="368.89" cy="279.63" r="0.88" fill="#c8142c"/>
<circle cx="361.19" cy="270.55" r="0.88" fill="#c8142c"/>
<circle cx="396.35" cy="277.63" r="0.88" fill="#c8142c"/>
<circle cx="366.97" cy="280.44" r="0.88" fill="#c8142c"/>
<circle cx="376.1" cy="246.02" r="0.88" fill="#c8142c"/>
<circle cx="371.22" cy="295.5" r="0.88" fill="#c8142c"/>
<circle cx="391.08" cy="293.72" r="0.88" fill="#c8142c"/>
<circle cx="366.4" cy="259.63" r="0.88" fill="#c8142c"/>
<circle cx="371.47" cy="281.05" r="0.88" fill="#c8142c"/>
<circle cx="364.21" cy="250.1" r="0.88" fill="#c8142c"/>
<circle cx="385.66" cy="293.35" r="0.88" fill="#c8142c"/>
<circle cx="363.36" cy="278.82" r="0.88" fill="#c8142c"/>
<circle cx="390.12" cy="298.13" r="0.88" fill="#c8142c"/>
<circle cx="376.05" cy="287.71" r="0.88" fill="#c8142c"/>
<circle cx="367.85" cy="294.2" r="0.88" fill="#c8142c"/>
<circle cx="370.68" cy="289.56" r="0.88" fill="#c8142c"/>
<circle cx="387.68" cy="297.83" r="0.88" fill="#c8142c"/>
<circle cx="395.62" cy="264.94" r="0.88" fill="#c8142c"/>
<circle cx="389.5" cy="282.43" r="0.88" fill="#c8142c"/>
<circle cx="375.98" cy="279.37" r="0.88" fill="#c8142c"/>
<circle cx="389.88" cy="272.04" r="0.88" fill="#c8142c"/>
<circle cx="361.38" cy="285.95" r="0.88" fill="#c8142c"/>
<circle cx="366.33" cy="282.13" r="0.88" fill="#c8142c"/>
<circle cx="366.76" cy="247.2" r="0.88" fill="#c8142c"/>
<circle cx="389.93" cy="266.96" r="0.88" fill="#c8142c"/>
<circle cx="388.77" cy="285.95" r="0.88" fill="#c8142c"/>
<circle cx="367.72" cy="296.78" r="0.88" fill="#c8142c"/>
<circle cx="366" cy="285.44" r="0.88" fill="#c8142c"/>
<circle cx="369.57" cy="272.48" r="0.88" fill="#c8142c"/>
<circle cx="369.73" cy="292.4" r="0.88" fill="#c8142c"/>
<circle cx="376.24" cy="296.81" r="0.88" fill="#c8142c"/>
<circle cx="347.82" cy="246.36" r="0.88" fill="#c8142c"/>
<circle cx="370.18" cy="262.69" r="0.88" fill="#c8142c"/>
<circle cx="375.21" cy="247.4" r="0.88" fill="#c8142c"/>
<circle cx="373.12" cy="264.09" r="0.88" fill="#c8142c"/>
<circle cx="390.26" cy="278.97" r="0.88" fill="#c8142c"/>
<circle cx="375.79" cy="296.94" r="0.88" fill="#c8142c"/>
<circle cx="358.24" cy="251.67" r="0.88" fill="#c8142c"/>
<circle cx="381.79" cy="297.33" r="0.88" fill="#c8142c"/>
<circle cx="372.57" cy="283.31" r="0.88" fill="#c8142c"/>
<circle cx="354.24" cy="244.8" r="0.88" fill="#c8142c"/>
<circle cx="369.54" cy="242.56" r="0.88" fill="#c8142c"/>
<circle cx="387.16" cy="292.4" r="0.88" fill="#c8142c"/>
<circle cx="382.89" cy="294.24" r="0.88" fill="#c8142c"/>
<circle cx="359.31" cy="276.54" r="0.88" fill="#c8142c"/>
<circle cx="370.01" cy="252.1" r="0.88" fill="#c8142c"/>
<circle cx="389.31" cy="293.24" r="0.88" fill="#c8142c"/>
<circle cx="353.56" cy="247.41" r="0.88" fill="#c8142c"/>
<circle cx="387.22" cy="260.51" r="0.88" fill="#c8142c"/>
<circle cx="371.86" cy="290.36" r="0.88" fill="#c8142c"/>
<circle cx="389.95" cy="295.37" r="0.88" fill="#c8142c"/>
<circle cx="391.37" cy="277.06" r="0.88" fill="#c8142c"/>
<circle cx="374.59" cy="274.71" r="0.88" fill="#c8142c"/>
<circle cx="367.01" cy="290.55" r="0.88" fill="#c8142c"/>
<circle cx="363.46" cy="256.07" r="0.88" fill="#c8142c"/>
<circle cx="358.73" cy="270.14" r="0.88" fill="#c8142c"/>
<circle cx="372.3" cy="278.4" r="0.88" fill="#c8142c"/>
<circle cx="372.02" cy="292.06" r="0.88" fill="#c8142c"/>
<circle cx="367.31" cy="267.63" r="0.88" fill="#c8142c"/>
<circle cx="368.37" cy="291.22" r="0.88" fill="#c8142c"/>
<circle cx="357.55" cy="242.8" r="0.88" fill="#c8142c"/>
<circle cx="389.66" cy="291.74" r="0.88" fill="#c8142c"/>
<circle cx="365.02" cy="260.34" r="0.88" fill="#c8142c"/>
<circle cx="384.96" cy="292.28" r="0.88" fill="#c8142c"/>
<circle cx="363.6" cy="283" r="0.88" fill="#c8142c"/>
<circle cx="379.07" cy="282.65" r="0.88" fill="#c8142c"/>
<circle cx="367.53" cy="265.38" r="0.88" fill="#c8142c"/>
<circle cx="370.59" cy="277.94" r="0.88" fill="#c8142c"/>
<circle cx="392.98" cy="277.31" r="0.88" fill="#c8142c"/>
<circle cx="385.94" cy="294.69" r="0.88" fill="#c8142c"/>
<circle cx="370.82" cy="283.29" r="0.88" fill="#c8142c"/>
<circle cx="368.81" cy="278.55" r="0.88" fill="#c8142c"/>
<circle cx="366.06" cy="279.35" r="0.88" fill="#c8142c"/>
<circle cx="371.55" cy="285.92" r="0.88" fill="#c8142c"/>
<circle cx="371.88" cy="291.7" r="0.88" fill="#c8142c"/>
<circle cx="353.81" cy="260.51" r="0.88" fill="#c8142c"/>
<circle cx="369.35" cy="294.91" r="0.88" fill="#c8142c"/>
<circle cx="369.22" cy="297.41" r="0.88" fill="#c8142c"/>
<circle cx="377.41" cy="291.65" r="0.88" fill="#c8142c"/>
<circle cx="372.98" cy="296.34" r="0.88" fill="#c8142c"/>
<circle cx="368.94" cy="294.56" r="0.88" fill="#c8142c"/>
<circle cx="389.06" cy="274.14" r="0.88" fill="#c8142c"/>
<circle cx="369.4" cy="288.47" r="0.88" fill="#c8142c"/>
<circle cx="370.52" cy="258.83" r="0.88" fill="#c8142c"/>
<circle cx="386.12" cy="276.58" r="0.88" fill="#c8142c"/>
<circle cx="373.56" cy="292.35" r="0.88" fill="#c8142c"/>
<circle cx="368.11" cy="278.92" r="0.88" fill="#c8142c"/>
<circle cx="387.22" cy="296.62" r="0.88" fill="#c8142c"/>
<circle cx="391.55" cy="280.31" r="0.88" fill="#c8142c"/>
<circle cx="368" cy="291.99" r="0.88" fill="#c8142c"/>
<circle cx="365.65" cy="239.61" r="0.88" fill="#c8142c"/>
<circle cx="377.61" cy="289.39" r="0.88" fill="#c8142c"/>
<circle cx="370.16" cy="287.11" r="0.88" fill="#c8142c"/>
<circle cx="385.36" cy="297.53" r="0.88" fill="#c8142c"/>
<circle cx="362.57" cy="254.21" r="0.88" fill="#c8142c"/>
<circle cx="364.92" cy="257.99" r="0.88" fill="#c8142c"/>
<circle cx="369.96" cy="265.21" r="0.88" fill="#c8142c"/>
<circle cx="374.68" cy="280.97" r="0.88" fill="#c8142c"/>
<circle cx="372.65" cy="293.39" r="0.88" fill="#c8142c"/>
<circle cx="375.98" cy="285.44" r="0.88" fill="#c8142c"/>
<circle cx="398.84" cy="258.54" r="0.88" fill="#c8142c"/>
<circle cx="370.14" cy="296.71" r="0.88" fill="#c8142c"/>
<circle cx="367.66" cy="297.95" r="0.88" fill="#c8142c"/>
<circle cx="362.9" cy="291.72" r="0.88" fill="#c8142c"/>
<circle cx="394.33" cy="294.09" r="0.88" fill="#c8142c"/>
<circle cx="375.72" cy="294.72" r="0.88" fill="#c8142c"/>
<circle cx="387.28" cy="280.84" r="0.88" fill="#c8142c"/>
<circle cx="371.19" cy="283.13" r="0.88" fill="#c8142c"/>
<circle cx="364.12" cy="251.7" r="0.88" fill="#c8142c"/>
<circle cx="379.06" cy="297.12" r="0.88" fill="#c8142c"/>
<circle cx="374.02" cy="292.42" r="0.88" fill="#c8142c"/>
<circle cx="372.53" cy="297.65" r="0.88" fill="#c8142c"/>
<circle cx="368.38" cy="286.33" r="0.88" fill="#c8142c"/>
<circle cx="388.15" cy="294.25" r="0.88" fill="#c8142c"/>
<circle cx="390.35" cy="283.41" r="0.88" fill="#c8142c"/>
<circle cx="372.1" cy="271.16" r="0.88" fill="#c8142c"/>
<circle cx="373.24" cy="287.7" r="0.88" fill="#c8142c"/>
<circle cx="368.56" cy="289.13" r="0.88" fill="#c8142c"/>
<circle cx="378.45" cy="297.45" r="0.88" fill="#c8142c"/>
<circle cx="369.79" cy="262.29" r="0.88" fill="#c8142c"/>
<circle cx="387.05" cy="277.19" r="0.88" fill="#c8142c"/>
<circle cx="363.76" cy="272.88" r="0.88" fill="#c8142c"/>
<circle cx="363.82" cy="280.02" r="0.88" fill="#c8142c"/>
<circle cx="369.43" cy="287.49" r="0.88" fill="#c8142c"/>
<circle cx="368.36" cy="287.82" r="0.88" fill="#c8142c"/>
<circle cx="376.49" cy="294.59" r="0.88" fill="#c8142c"/>
<circle cx="374.19" cy="284.3" r="0.88" fill="#c8142c"/>
<circle cx="377.81" cy="296.23" r="0.88" fill="#c8142c"/>
<circle cx="374.53" cy="286.39" r="0.88" fill="#c8142c"/>
<circle cx="392.98" cy="287.38" r="0.88" fill="#c8142c"/>
<circle cx="385.81" cy="298.04" r="0.88" fill="#c8142c"/>
<circle cx="373.77" cy="287.06" r="0.88" fill="#c8142c"/>
<circle cx="366.02" cy="283.44" r="0.88" fill="#c8142c"/>
<circle cx="368.6" cy="291.99" r="0.88" fill="#c8142c"/>
<circle cx="375.87" cy="289.06" r="0.88" fill="#c8142c"/>
<circle cx="365.95" cy="274.31" r="0.88" fill="#c8142c"/>
<circle cx="361.85" cy="284.55" r="0.88" fill="#c8142c"/>
<circle cx="362.44" cy="279.64" r="0.88" fill="#c8142c"/>
<circle cx="353.32" cy="254.19" r="0.88" fill="#c8142c"/>
<circle cx="369.42" cy="286.65" r="0.88" fill="#c8142c"/>
<circle cx="363.51" cy="260.87" r="0.88" fill="#c8142c"/>
<circle cx="369.85" cy="282.93" r="0.88" fill="#c8142c"/>
<circle cx="373.73" cy="288.61" r="0.88" fill="#c8142c"/>
<circle cx="371.02" cy="292.7" r="0.88" fill="#c8142c"/>
<circle cx="393.7" cy="294.71" r="0.88" fill="#c8142c"/>
<circle cx="371.42" cy="292.39" r="0.88" fill="#c8142c"/>
<circle cx="363.56" cy="275.46" r="0.88" fill="#c8142c"/>
<circle cx="366.54" cy="259.58" r="0.88" fill="#c8142c"/>
<circle cx="402.18" cy="276.51" r="0.88" fill="#c8142c"/>
<circle cx="367.08" cy="270.92" r="0.88" fill="#c8142c"/>
<circle cx="406.15" cy="261.46" r="0.88" fill="#c8142c"/>
<circle cx="375.91" cy="280.27" r="0.88" fill="#c8142c"/>
<circle cx="371.23" cy="291.02" r="0.88" fill="#c8142c"/>
<circle cx="365.49" cy="292.1" r="0.88" fill="#c8142c"/>
<circle cx="369.07" cy="294.09" r="0.88" fill="#c8142c"/>
<circle cx="371.56" cy="296.8" r="0.88" fill="#c8142c"/>
<circle cx="373.54" cy="271.76" r="0.88" fill="#c8142c"/>
<circle cx="391.56" cy="289.43" r="0.88" fill="#c8142c"/>
</g>
<rect x="294.9" y="158.2" width="175.1" height="192.7" fill="none" stroke="#cdcdcd" stroke-width="1"/>
<circle cx="364.7" cy="166.8" r="0.95" fill="#c8142c"/>
<circle cx="390.2" cy="176.5" r="0.95" fill="#c8142c"/>
<circle cx="371.5" cy="224.5" r="0.95" fill="#c8142c"/>
<circle cx="358.5" cy="228.3" r="0.95" fill="#c8142c"/>
<circle cx="357.5" cy="232.5" r="0.95" fill="#c8142c"/>
<circle cx="360.5" cy="233.5" r="0.95" fill="#c8142c"/>
<circle cx="364.8" cy="238.5" r="0.95" fill="#c8142c"/>
<circle cx="376" cy="239.5" r="0.95" fill="#c8142c"/>
<circle cx="349.5" cy="242.5" r="0.95" fill="#c8142c"/>
<circle cx="356" cy="247" r="0.95" fill="#c8142c"/>
<circle cx="382" cy="257" r="0.95" fill="#c8142c"/>
<circle cx="386" cy="263.5" r="0.95" fill="#c8142c"/>
<circle cx="396" cy="244.8" r="0.95" fill="#c8142c"/>
<circle cx="408.7" cy="248.2" r="0.95" fill="#c8142c"/>
<circle cx="402" cy="252.5" r="0.95" fill="#c8142c"/>
<circle cx="414.5" cy="254.5" r="0.95" fill="#c8142c"/>
<circle cx="398" cy="264" r="0.95" fill="#c8142c"/>
<circle cx="398.5" cy="267" r="0.95" fill="#c8142c"/>
<circle cx="386" cy="273" r="0.95" fill="#c8142c"/>
<circle cx="382" cy="287" r="0.95" fill="#c8142c"/>
<circle cx="398" cy="281" r="0.95" fill="#c8142c"/>
<circle cx="395.5" cy="292.5" r="0.95" fill="#c8142c"/>
<circle cx="401" cy="300.5" r="0.95" fill="#c8142c"/>
<circle cx="421.5" cy="214.8" r="0.95" fill="#c8142c"/>
<circle cx="439.4" cy="225.2" r="0.95" fill="#c8142c"/>
<circle cx="452.4" cy="237.4" r="0.95" fill="#c8142c"/>
<circle cx="443.2" cy="240" r="0.95" fill="#c8142c"/>
<text x="361.8" y="171.7" font-size="4.2" text-anchor="middle" font-weight="normal" fill="#1a1a1a" stroke="#1a1a1a" stroke-width="0.14">FCER1A</text>
<text x="393.4" y="174.7" font-size="4.2" text-anchor="middle" font-weight="normal" fill="#1a1a1a" stroke="#1a1a1a" stroke-width="0.14">CEBPB</text>
<text x="374.1" y="223" font-size="4.2" text-anchor="middle" font-weight="normal" fill="#1a1a1a" stroke="#1a1a1a" stroke-width="0.14">SELL</text>
<text x="355.8" y="226.5" font-size="4.2" text-anchor="middle" font-weight="normal" fill="#1a1a1a" stroke="#1a1a1a" stroke-width="0.14">IKZF3</text>
<text x="348.7" y="232" font-size="4.2" text-anchor="middle" font-weight="normal" fill="#1a1a1a" stroke="#1a1a1a" stroke-width="0.14">TNFSF8</text>
<text x="368.8" y="232" font-size="4.2" text-anchor="middle" font-weight="normal" fill="#1a1a1a" stroke="#1a1a1a" stroke-width="0.14">TNFSF13B</text>
<text x="357.7" y="238.6" font-size="4.2" text-anchor="middle" font-weight="normal" fill="#1a1a1a" stroke="#1a1a1a" stroke-width="0.14">CD163</text>
<text x="379" y="237.8" font-size="4.2" text-anchor="middle" font-weight="normal" fill="#1a1a1a" stroke="#1a1a1a" stroke-width="0.14">PTPN2</text>
<text x="343.7" y="242.9" font-size="4.2" text-anchor="middle" font-weight="normal" fill="#1a1a1a" stroke="#1a1a1a" stroke-width="0.14">CFP</text>
<text x="353.1" y="249" font-size="4.2" text-anchor="middle" font-weight="normal" fill="#1a1a1a" stroke="#1a1a1a" stroke-width="0.14">NCF4</text>
<text x="381.5" y="256.9" font-size="4.2" text-anchor="middle" font-weight="normal" fill="#1a1a1a" stroke="#1a1a1a" stroke-width="0.14">TNFAIP6</text>
<text x="385.1" y="262.4" font-size="4.2" text-anchor="middle" font-weight="normal" fill="#1a1a1a" stroke="#1a1a1a" stroke-width="0.14">TFEC</text>
<text x="394" y="243" font-size="4.2" text-anchor="middle" font-weight="normal" fill="#1a1a1a" stroke="#1a1a1a" stroke-width="0.14">CSF1</text>
<text x="411.5" y="246.5" font-size="4.2" text-anchor="middle" font-weight="normal" fill="#1a1a1a" stroke="#1a1a1a" stroke-width="0.14">NCAM1</text>
<text x="409" y="253.4" font-size="4.2" text-anchor="middle" font-weight="normal" fill="#1a1a1a" stroke="#1a1a1a" stroke-width="0.14">CLEC4E</text>
<text x="417.7" y="259.5" font-size="4.2" text-anchor="middle" font-weight="normal" fill="#1a1a1a" stroke="#1a1a1a" stroke-width="0.14">EGR2</text>
<text x="400" y="262.1" font-size="4.2" text-anchor="middle" font-weight="normal" fill="#1a1a1a" stroke="#1a1a1a" stroke-width="0.14">ITGB2</text>
<text x="407.6" y="270.7" font-size="4.2" text-anchor="middle" font-weight="normal" fill="#1a1a1a" stroke="#1a1a1a" stroke-width="0.14">CD274</text>
<text x="383.1" y="271.9" font-size="4.2" text-anchor="middle" font-weight="normal" fill="#1a1a1a" stroke="#1a1a1a" stroke-width="0.14">BCL6</text>
<text x="385.5" y="286.1" font-size="4.2" text-anchor="middle" font-weight="normal" fill="#1a1a1a" stroke="#1a1a1a" stroke-width="0.14">LILRB2</text>
<text x="406.5" y="285.3" font-size="4.2" text-anchor="middle" font-weight="normal" fill="#1a1a1a" stroke="#1a1a1a" stroke-width="0.14">CLEC6A</text>
<text x="400.7" y="296.9" font-size="4.2" text-anchor="middle" font-weight="normal" fill="#1a1a1a" stroke="#1a1a1a" stroke-width="0.14">IRAK2</text>
<text x="403.3" y="305.8" font-size="4.2" text-anchor="middle" font-weight="normal" fill="#1a1a1a" stroke="#1a1a1a" stroke-width="0.14">FN1</text>
<text x="424.8" y="213.2" font-size="4.2" text-anchor="middle" font-weight="normal" fill="#1a1a1a" stroke="#1a1a1a" stroke-width="0.14">CD276</text>
<text x="442.2" y="223.6" font-size="4.2" text-anchor="middle" font-weight="normal" fill="#1a1a1a" stroke="#1a1a1a" stroke-width="0.14">IL1RN</text>
<text x="455.2" y="235.5" font-size="4.2" text-anchor="middle" font-weight="normal" fill="#1a1a1a" stroke="#1a1a1a" stroke-width="0.14">COL24</text>
<text x="440" y="244" font-size="4.2" text-anchor="middle" font-weight="normal" fill="#1a1a1a" stroke="#1a1a1a" stroke-width="0.14">SPP1</text>
<line x1="292.9" y1="342.5" x2="294.9" y2="342.5" stroke="#555" stroke-width="0.8"/>
<text x="291.3" y="344.9" font-size="8.3" text-anchor="end" font-weight="bold" fill="#000">0</text>
<line x1="292.9" y1="288" x2="294.9" y2="288" stroke="#555" stroke-width="0.8"/>
<text x="291.3" y="290.4" font-size="8.3" text-anchor="end" font-weight="bold" fill="#000">2</text>
<line x1="292.9" y1="233.5" x2="294.9" y2="233.5" stroke="#555" stroke-width="0.8"/>
<text x="291.3" y="235.9" font-size="8.3" text-anchor="end" font-weight="bold" fill="#000">4</text>
<line x1="292.9" y1="179" x2="294.9" y2="179" stroke="#555" stroke-width="0.8"/>
<text x="291.3" y="181.4" font-size="8.3" text-anchor="end" font-weight="bold" fill="#000">6</text>
<line x1="303" y1="350.9" x2="303" y2="352.9" stroke="#555" stroke-width="0.8"/>
<text x="301.2" y="359.6" font-size="8.2" text-anchor="middle" font-weight="bold" fill="#000">−4</text>
<line x1="342.6" y1="350.9" x2="342.6" y2="352.9" stroke="#555" stroke-width="0.8"/>
<text x="340.8" y="359.6" font-size="8.2" text-anchor="middle" font-weight="bold" fill="#000">−2</text>
<line x1="382.2" y1="350.9" x2="382.2" y2="352.9" stroke="#555" stroke-width="0.8"/>
<text x="382.2" y="359.6" font-size="8.2" text-anchor="middle" font-weight="bold" fill="#000">0</text>
<line x1="421.8" y1="350.9" x2="421.8" y2="352.9" stroke="#555" stroke-width="0.8"/>
<text x="421.8" y="359.6" font-size="8.2" text-anchor="middle" font-weight="bold" fill="#000">2</text>
<line x1="461.4" y1="350.9" x2="461.4" y2="352.9" stroke="#555" stroke-width="0.8"/>
<text x="461.4" y="359.6" font-size="8.2" text-anchor="middle" font-weight="bold" fill="#000">4</text>
<text x="387.5" y="367.5" font-size="8.5" text-anchor="middle" font-weight="bold" fill="#000">LogFC</text>
<text transform="translate(278,253.9) rotate(-90)" font-size="9.3" text-anchor="middle" font-weight="bold" fill="#000">−log<tspan dy="2" font-size="5.5">10</tspan><tspan dy="-2"> (</tspan><tspan font-style="italic">P</tspan> value)</text>
<line x1="36.4" y1="377.58" x2="36.4" y2="451.3" stroke="#000" stroke-width="1.1"/>
<line x1="33.4" y1="378.08" x2="36.4" y2="378.08" stroke="#000" stroke-width="1.1"/>
<text x="31.9" y="380.48" font-size="7.6" text-anchor="end" font-weight="bold" fill="#000">4,000</text>
<line x1="33.4" y1="396.26" x2="36.4" y2="396.26" stroke="#000" stroke-width="1.1"/>
<text x="31.9" y="398.66" font-size="7.6" text-anchor="end" font-weight="bold" fill="#000">3,000</text>
<line x1="33.4" y1="414.44" x2="36.4" y2="414.44" stroke="#000" stroke-width="1.1"/>
<text x="31.9" y="416.84" font-size="7.6" text-anchor="end" font-weight="bold" fill="#000">2,000</text>
<line x1="33.4" y1="432.62" x2="36.4" y2="432.62" stroke="#000" stroke-width="1.1"/>
<text x="31.9" y="435.02" font-size="7.6" text-anchor="end" font-weight="bold" fill="#000">1,000</text>
<line x1="33.4" y1="450.8" x2="36.4" y2="450.8" stroke="#000" stroke-width="1.1"/>
<text x="31.9" y="453.2" font-size="7.6" text-anchor="end" font-weight="bold" fill="#000">0</text>
<rect x="56.5" y="402.3" width="38.1" height="48.5" fill="none" stroke="#000" stroke-width="1.15"/>
<rect x="115.2" y="418.8" width="37.9" height="32" fill="none" stroke="#000" stroke-width="1.15"/>
<line x1="36.4" y1="450.8" x2="173.1" y2="450.8" stroke="#000" stroke-width="1.1"/>
<line x1="75.3" y1="450.8" x2="75.3" y2="453.4" stroke="#000" stroke-width="1.1"/>
<line x1="133.8" y1="450.8" x2="133.8" y2="453.4" stroke="#000" stroke-width="1.1"/>
<line x1="75.4" y1="399.2" x2="75.4" y2="404.8" stroke="#000" stroke-width="1"/>
<line x1="65.8" y1="399.2" x2="85" y2="399.2" stroke="#000" stroke-width="1"/>
<line x1="65.8" y1="404.8" x2="85" y2="404.8" stroke="#000" stroke-width="1"/>
<line x1="133.8" y1="415.6" x2="133.8" y2="421.2" stroke="#000" stroke-width="1"/>
<line x1="124.1" y1="415.6" x2="143.5" y2="415.6" stroke="#000" stroke-width="1"/>
<line x1="124.1" y1="421.2" x2="143.5" y2="421.2" stroke="#000" stroke-width="1"/>
<polygon points="73.45,391.4 77.35,391.4 75.4,394.8" fill="#000"/>
<polygon points="70.55,395.6 74.45,395.6 72.5,399" fill="#000"/>
<polygon points="76.55,396.4 80.45,396.4 78.5,399.8" fill="#000"/>
<polygon points="73.45,401.8 77.35,401.8 75.4,405.2" fill="#000"/>
<polygon points="70.55,407.5 74.45,407.5 72.5,410.9" fill="#000"/>
<polygon points="76.55,406.8 80.45,406.8 78.5,410.2" fill="#000"/>
<rect x="129.15" y="411.45" width="3.3" height="3.3" fill="#000"/>
<rect x="135.05" y="409.15" width="3.3" height="3.3" fill="#000"/>
<rect x="135.05" y="414.15" width="3.3" height="3.3" fill="#000"/>
<rect x="129.15" y="417.95" width="3.3" height="3.3" fill="#000"/>
<rect x="135.05" y="418.75" width="3.3" height="3.3" fill="#000"/>
<rect x="132.15" y="428.35" width="3.3" height="3.3" fill="#000"/>
<line x1="75" y1="382.9" x2="133.2" y2="382.9" stroke="#222" stroke-width="1.3"/>
<text x="101.8" y="381.47" font-size="9" text-anchor="middle" font-weight="bold" fill="#000" stroke="#000" stroke-width="0.35">*</text>
<text transform="translate(8.5,410.5) rotate(-90)" font-size="7.6" text-anchor="middle" font-weight="bold" fill="#000">CD163 MFI</text>
<text x="74.3" y="463" font-size="8.6" text-anchor="middle" font-weight="bold" fill="#000">IgG4</text>
<text x="132.4" y="463" font-size="8.6" text-anchor="middle" font-weight="bold" fill="#000">Anti-LILRB2</text>
<line x1="211.9" y1="379.9" x2="211.9" y2="454.5" stroke="#000" stroke-width="1.1"/>
<line x1="208.9" y1="380.4" x2="211.9" y2="380.4" stroke="#000" stroke-width="1.1"/>
<text x="207.4" y="382.8" font-size="7.6" text-anchor="end" font-weight="bold" fill="#000">8,000</text>
<line x1="208.9" y1="398.8" x2="211.9" y2="398.8" stroke="#000" stroke-width="1.1"/>
<text x="207.4" y="401.2" font-size="7.6" text-anchor="end" font-weight="bold" fill="#000">6,000</text>
<line x1="208.9" y1="417.2" x2="211.9" y2="417.2" stroke="#000" stroke-width="1.1"/>
<text x="207.4" y="419.6" font-size="7.6" text-anchor="end" font-weight="bold" fill="#000">4,000</text>
<line x1="208.9" y1="435.6" x2="211.9" y2="435.6" stroke="#000" stroke-width="1.1"/>
<text x="207.4" y="438" font-size="7.6" text-anchor="end" font-weight="bold" fill="#000">2,000</text>
<line x1="208.9" y1="454" x2="211.9" y2="454" stroke="#000" stroke-width="1.1"/>
<text x="207.4" y="456.4" font-size="7.6" text-anchor="end" font-weight="bold" fill="#000">0</text>
<rect x="230.9" y="407.9" width="37.9" height="46.1" fill="none" stroke="#000" stroke-width="1.15"/>
<rect x="289.5" y="410.7" width="38.1" height="43.3" fill="none" stroke="#000" stroke-width="1.15"/>
<line x1="211.9" y1="454" x2="348.4" y2="454" stroke="#000" stroke-width="1.1"/>
<line x1="250.4" y1="454" x2="250.4" y2="456.6" stroke="#000" stroke-width="1.1"/>
<line x1="308.6" y1="454" x2="308.6" y2="456.6" stroke="#000" stroke-width="1.1"/>
<line x1="250.4" y1="400.7" x2="250.4" y2="413.8" stroke="#000" stroke-width="1"/>
<line x1="240.9" y1="400.7" x2="259.9" y2="400.7" stroke="#000" stroke-width="1"/>
<line x1="240.9" y1="413.8" x2="259.9" y2="413.8" stroke="#000" stroke-width="1"/>
<line x1="308.4" y1="401.8" x2="308.4" y2="418.1" stroke="#000" stroke-width="1"/>
<line x1="298.6" y1="401.8" x2="318.2" y2="401.8" stroke="#000" stroke-width="1"/>
<line x1="298.6" y1="418.1" x2="318.2" y2="418.1" stroke="#000" stroke-width="1"/>
<polygon points="248.45,386.6 252.35,386.6 250.4,390" fill="#000"/>
<polygon points="248.45,389.3 252.35,389.3 250.4,392.7" fill="#000"/>
<polygon points="248.45,400.5 252.35,400.5 250.4,403.9" fill="#000"/>
<polygon points="248.45,410 252.35,410 250.4,413.4" fill="#000"/>
<polygon points="248.45,415.3 252.35,415.3 250.4,418.7" fill="#000"/>
<polygon points="248.45,429.1 252.35,429.1 250.4,432.5" fill="#000"/>
<rect x="306.95" y="391.15" width="3.3" height="3.3" fill="#000"/>
<rect x="306.95" y="394.55" width="3.3" height="3.3" fill="#000"/>
<rect x="309.65" y="402.05" width="3.3" height="3.3" fill="#000"/>
<rect x="303.75" y="404.15" width="3.3" height="3.3" fill="#000"/>
<rect x="306.95" y="444.95" width="3.3" height="3.3" fill="#000"/>
<circle cx="308.6" cy="413.8" r="1.9" fill="#000"/>
<line x1="250.4" y1="381.3" x2="307.5" y2="381.3" stroke="#222" stroke-width="1.3"/>
<text x="278" y="376" font-size="8.4" text-anchor="middle" font-weight="bold" fill="#000">ns</text>
<text transform="translate(182.2,413.7) rotate(-90)" font-size="7.6" text-anchor="middle" font-weight="bold" fill="#000">CD86 MFI</text>
<text x="251.3" y="465.3" font-size="8.6" text-anchor="middle" font-weight="bold" fill="#000">IgG4</text>
<text x="307.3" y="465.3" font-size="8.6" text-anchor="middle" font-weight="bold" fill="#000">Anti-LILRB2</text>
<line x1="382.3" y1="388" x2="382.3" y2="451.7" stroke="#000" stroke-width="1.1"/>
<line x1="379.3" y1="388.5" x2="382.3" y2="388.5" stroke="#000" stroke-width="1.1"/>
<text x="377.8" y="390.9" font-size="7.6" text-anchor="end" font-weight="bold" fill="#000">600</text>
<line x1="379.3" y1="409.4" x2="382.3" y2="409.4" stroke="#000" stroke-width="1.1"/>
<text x="377.8" y="411.8" font-size="7.6" text-anchor="end" font-weight="bold" fill="#000">400</text>
<line x1="379.3" y1="430.3" x2="382.3" y2="430.3" stroke="#000" stroke-width="1.1"/>
<text x="377.8" y="432.7" font-size="7.6" text-anchor="end" font-weight="bold" fill="#000">200</text>
<line x1="379.3" y1="451.2" x2="382.3" y2="451.2" stroke="#000" stroke-width="1.1"/>
<text x="377.8" y="453.6" font-size="7.6" text-anchor="end" font-weight="bold" fill="#000">0</text>
<rect x="402.8" y="403" width="37.7" height="48.2" fill="none" stroke="#000" stroke-width="1.15"/>
<rect x="461" y="429.8" width="37.2" height="21.4" fill="none" stroke="#000" stroke-width="1.15"/>
<line x1="382.3" y1="451.2" x2="519" y2="451.2" stroke="#000" stroke-width="1.1"/>
<line x1="421.5" y1="451.2" x2="421.5" y2="453.8" stroke="#000" stroke-width="1.1"/>
<line x1="479.6" y1="451.2" x2="479.6" y2="453.8" stroke="#000" stroke-width="1.1"/>
<line x1="421.5" y1="399.4" x2="421.5" y2="406.2" stroke="#000" stroke-width="1"/>
<line x1="411.9" y1="399.4" x2="431.1" y2="399.4" stroke="#000" stroke-width="1"/>
<line x1="411.9" y1="406.2" x2="431.1" y2="406.2" stroke="#000" stroke-width="1"/>
<line x1="479.4" y1="424.8" x2="479.4" y2="434.7" stroke="#000" stroke-width="1"/>
<line x1="470.1" y1="424.8" x2="488.7" y2="424.8" stroke="#000" stroke-width="1"/>
<line x1="470.1" y1="434.7" x2="488.7" y2="434.7" stroke="#000" stroke-width="1"/>
<polygon points="422.65,392.2 426.55,392.2 424.6,395.6" fill="#000"/>
<polygon points="416.75,394.3 420.65,394.3 418.7,397.7" fill="#000"/>
<polygon points="422.65,397.1 426.55,397.1 424.6,400.5" fill="#000"/>
<polygon points="419.45,400.2 423.35,400.2 421.4,403.6" fill="#000"/>
<polygon points="419.45,403.4 423.35,403.4 421.4,406.8" fill="#000"/>
<polygon points="419.45,415.5 423.35,415.5 421.4,418.9" fill="#000"/>
<rect x="474.75" y="417.15" width="3.3" height="3.3" fill="#000"/>
<rect x="480.55" y="415.05" width="3.3" height="3.3" fill="#000"/>
<rect x="480.55" y="419.35" width="3.3" height="3.3" fill="#000"/>
<rect x="474.75" y="434.15" width="3.3" height="3.3" fill="#000"/>
<rect x="480.55" y="435.15" width="3.3" height="3.3" fill="#000"/>
<rect x="477.95" y="443.65" width="3.3" height="3.3" fill="#000"/>
<line x1="420.4" y1="390.5" x2="477.5" y2="390.5" stroke="#222" stroke-width="1.3"/>
<text x="446.4" y="387.97" font-size="9" text-anchor="middle" font-weight="bold" fill="#000" stroke="#000" stroke-width="0.35">*</text>
<text x="450.4" y="387.97" font-size="9" text-anchor="middle" font-weight="bold" fill="#000" stroke="#000" stroke-width="0.35">*</text>
<text transform="translate(359.3,416.2) rotate(-90)" font-size="7.6" text-anchor="middle" font-weight="bold" fill="#000">DC-SIGN MFI</text>
<text x="420.5" y="463.5" font-size="8.6" text-anchor="middle" font-weight="bold" fill="#000">IgG4</text>
<text x="478.2" y="463.5" font-size="8.6" text-anchor="middle" font-weight="bold" fill="#000">Anti-LILRB2</text>
<line x1="28.5" y1="499.8" x2="28.5" y2="567.3" stroke="#000" stroke-width="1.1"/>
<line x1="25.5" y1="500.3" x2="28.5" y2="500.3" stroke="#000" stroke-width="1.1"/>
<text x="24" y="502.7" font-size="7.6" text-anchor="end" font-weight="bold" fill="#000">600</text>
<line x1="25.5" y1="513.6" x2="28.5" y2="513.6" stroke="#000" stroke-width="1.1"/>
<text x="24" y="516" font-size="7.6" text-anchor="end" font-weight="bold" fill="#000">400</text>
<line x1="25.5" y1="526.9" x2="28.5" y2="526.9" stroke="#000" stroke-width="1.1"/>
<text x="24" y="529.3" font-size="7.6" text-anchor="end" font-weight="bold" fill="#000">300</text>
<line x1="25.5" y1="540.2" x2="28.5" y2="540.2" stroke="#000" stroke-width="1.1"/>
<text x="24" y="542.6" font-size="7.6" text-anchor="end" font-weight="bold" fill="#000">200</text>
<line x1="25.5" y1="553.5" x2="28.5" y2="553.5" stroke="#000" stroke-width="1.1"/>
<text x="24" y="555.9" font-size="7.6" text-anchor="end" font-weight="bold" fill="#000">100</text>
<line x1="25.5" y1="566.8" x2="28.5" y2="566.8" stroke="#000" stroke-width="1.1"/>
<text x="24" y="569.2" font-size="7.6" text-anchor="end" font-weight="bold" fill="#000">0</text>
<rect x="48.5" y="518.3" width="37.6" height="48.5" fill="none" stroke="#000" stroke-width="1.15"/>
<rect x="106.6" y="546.4" width="38.1" height="20.4" fill="none" stroke="#000" stroke-width="1.15"/>
<line x1="28.5" y1="566.8" x2="164.8" y2="566.8" stroke="#000" stroke-width="1.1"/>
<line x1="67.4" y1="566.8" x2="67.4" y2="569.4" stroke="#000" stroke-width="1.1"/>
<line x1="125.7" y1="566.8" x2="125.7" y2="569.4" stroke="#000" stroke-width="1.1"/>
<line x1="67.4" y1="513" x2="67.4" y2="522.9" stroke="#000" stroke-width="1"/>
<line x1="57.2" y1="513" x2="77.6" y2="513" stroke="#000" stroke-width="1"/>
<line x1="57.2" y1="522.9" x2="77.6" y2="522.9" stroke="#000" stroke-width="1"/>
<line x1="125.5" y1="544.7" x2="125.5" y2="547.9" stroke="#000" stroke-width="1"/>
<line x1="116.2" y1="544.7" x2="134.8" y2="544.7" stroke="#000" stroke-width="1"/>
<line x1="116.2" y1="547.9" x2="134.8" y2="547.9" stroke="#000" stroke-width="1"/>
<polygon points="65.15,502.8 69.05,502.8 67.1,506.2" fill="#000"/>
<polygon points="62.35,507.7 66.25,507.7 64.3,511.1" fill="#000"/>
<polygon points="68.75,510.2 72.65,510.2 70.7,513.6" fill="#000"/>
<polygon points="65.15,513.4 69.05,513.4 67.1,516.8" fill="#000"/>
<polygon points="65.15,525 69.05,525 67.1,528.4" fill="#000"/>
<polygon points="65.15,536.7 69.05,536.7 67.1,540.1" fill="#000"/>
<rect x="124.05" y="537.75" width="3.3" height="3.3" fill="#000"/>
<rect x="117.65" y="545.15" width="3.3" height="3.3" fill="#000"/>
<rect x="129.75" y="543.05" width="3.3" height="3.3" fill="#000"/>
<rect x="117.65" y="547.95" width="3.3" height="3.3" fill="#000"/>
<rect x="129.75" y="547.35" width="3.3" height="3.3" fill="#000"/>
<rect x="124.05" y="544.15" width="3.3" height="3.3" fill="#000"/>
<line x1="66.4" y1="501.7" x2="123.6" y2="501.7" stroke="#222" stroke-width="1.3"/>
<text x="92.2" y="497.77" font-size="9" text-anchor="middle" font-weight="bold" fill="#000" stroke="#000" stroke-width="0.35">*</text>
<text x="96.2" y="497.77" font-size="9" text-anchor="middle" font-weight="bold" fill="#000" stroke="#000" stroke-width="0.35">*</text>
<text transform="translate(6.6,531.7) rotate(-90)" font-size="7.6" text-anchor="middle" font-weight="bold" fill="#000">CD163 MFI</text>
<text x="67.1" y="579" font-size="8.6" text-anchor="middle" font-weight="bold" fill="#000">IgG4</text>
<text x="124.4" y="579" font-size="8.6" text-anchor="middle" font-weight="bold" fill="#000">Anti-LILRB2</text>
<line x1="209.6" y1="495.6" x2="209.6" y2="569.8" stroke="#000" stroke-width="1.1"/>
<line x1="206.6" y1="496.1" x2="209.6" y2="496.1" stroke="#000" stroke-width="1.1"/>
<text x="205.1" y="498.5" font-size="7.6" text-anchor="end" font-weight="bold" fill="#000">8,000</text>
<line x1="206.6" y1="514.4" x2="209.6" y2="514.4" stroke="#000" stroke-width="1.1"/>
<text x="205.1" y="516.8" font-size="7.6" text-anchor="end" font-weight="bold" fill="#000">6,000</text>
<line x1="206.6" y1="532.7" x2="209.6" y2="532.7" stroke="#000" stroke-width="1.1"/>
<text x="205.1" y="535.1" font-size="7.6" text-anchor="end" font-weight="bold" fill="#000">4,000</text>
<line x1="206.6" y1="551" x2="209.6" y2="551" stroke="#000" stroke-width="1.1"/>
<text x="205.1" y="553.4" font-size="7.6" text-anchor="end" font-weight="bold" fill="#000">2,000</text>
<line x1="206.6" y1="569.3" x2="209.6" y2="569.3" stroke="#000" stroke-width="1.1"/>
<text x="205.1" y="571.7" font-size="7.6" text-anchor="end" font-weight="bold" fill="#000">0</text>
<rect x="229.7" y="552.1" width="38.3" height="17.2" fill="none" stroke="#000" stroke-width="1.15"/>
<rect x="287.8" y="529.9" width="37.7" height="39.4" fill="none" stroke="#000" stroke-width="1.15"/>
<line x1="209.6" y1="569.3" x2="347" y2="569.3" stroke="#000" stroke-width="1.1"/>
<line x1="248.8" y1="569.3" x2="248.8" y2="571.9" stroke="#000" stroke-width="1.1"/>
<line x1="306.5" y1="569.3" x2="306.5" y2="571.9" stroke="#000" stroke-width="1.1"/>
<line x1="248.9" y1="549.4" x2="248.9" y2="555.3" stroke="#000" stroke-width="1"/>
<line x1="239.2" y1="549.4" x2="258.6" y2="549.4" stroke="#000" stroke-width="1"/>
<line x1="239.2" y1="555.3" x2="258.6" y2="555.3" stroke="#000" stroke-width="1"/>
<line x1="306.6" y1="521.9" x2="306.6" y2="537.3" stroke="#000" stroke-width="1"/>
<line x1="296.8" y1="521.9" x2="316.4" y2="521.9" stroke="#000" stroke-width="1"/>
<line x1="296.8" y1="537.3" x2="316.4" y2="537.3" stroke="#000" stroke-width="1"/>
<polygon points="246.75,538.1 250.65,538.1 248.7,541.5" fill="#000"/>
<polygon points="246.75,543 250.65,543 248.7,546.4" fill="#000"/>
<polygon points="241.05,555.7 244.95,555.7 243,559.1" fill="#000"/>
<polygon points="246.75,554.6 250.65,554.6 248.7,558" fill="#000"/>
<polygon points="252.65,555.7 256.55,555.7 254.6,559.1" fill="#000"/>
<rect x="304.75" y="501.85" width="3.3" height="3.3" fill="#000"/>
<rect x="304.75" y="513.45" width="3.3" height="3.3" fill="#000"/>
<rect x="301.65" y="549.45" width="3.3" height="3.3" fill="#000"/>
<rect x="307.95" y="548.75" width="3.3" height="3.3" fill="#000"/>
<circle cx="306.4" cy="524.6" r="1.9" fill="#000"/>
<circle cx="306.4" cy="534.8" r="1.9" fill="#000"/>
<line x1="248.3" y1="496.7" x2="305.4" y2="496.7" stroke="#222" stroke-width="1.3"/>
<text x="274.9" y="495.27" font-size="9" text-anchor="middle" font-weight="bold" fill="#000" stroke="#000" stroke-width="0.35">*</text>
<text transform="translate(179.7,529.1) rotate(-90)" font-size="7.6" text-anchor="middle" font-weight="bold" fill="#000">CD86 MFI</text>
<text x="249.2" y="581" font-size="8.6" text-anchor="middle" font-weight="bold" fill="#000">IgG4</text>
<text x="306.3" y="581" font-size="8.6" text-anchor="middle" font-weight="bold" fill="#000">Anti-LILRB2</text>
<line x1="383" y1="495.81" x2="383" y2="570.7" stroke="#000" stroke-width="1.1"/>
<line x1="380" y1="496.31" x2="383" y2="496.31" stroke="#000" stroke-width="1.1"/>
<text x="378.5" y="498.71" font-size="7.6" text-anchor="end" font-weight="bold" fill="#000">6,000</text>
<line x1="380" y1="520.94" x2="383" y2="520.94" stroke="#000" stroke-width="1.1"/>
<text x="378.5" y="523.34" font-size="7.6" text-anchor="end" font-weight="bold" fill="#000">4,000</text>
<line x1="380" y1="545.57" x2="383" y2="545.57" stroke="#000" stroke-width="1.1"/>
<text x="378.5" y="547.97" font-size="7.6" text-anchor="end" font-weight="bold" fill="#000">2,000</text>
<line x1="380" y1="570.2" x2="383" y2="570.2" stroke="#000" stroke-width="1.1"/>
<text x="378.5" y="572.6" font-size="7.6" text-anchor="end" font-weight="bold" fill="#000">0</text>
<rect x="403.5" y="513.1" width="38" height="57.1" fill="none" stroke="#000" stroke-width="1.15"/>
<rect x="462.3" y="525.8" width="37.8" height="44.4" fill="none" stroke="#000" stroke-width="1.15"/>
<line x1="383" y1="570.2" x2="519" y2="570.2" stroke="#000" stroke-width="1.1"/>
<line x1="422.6" y1="570.2" x2="422.6" y2="572.8" stroke="#000" stroke-width="1.1"/>
<line x1="480.2" y1="570.2" x2="480.2" y2="572.8" stroke="#000" stroke-width="1.1"/>
<line x1="422.8" y1="510" x2="422.8" y2="515" stroke="#000" stroke-width="1"/>
<line x1="413" y1="510" x2="432.6" y2="510" stroke="#000" stroke-width="1"/>
<line x1="413" y1="515" x2="432.6" y2="515" stroke="#000" stroke-width="1"/>
<line x1="480.7" y1="523.5" x2="480.7" y2="527.3" stroke="#000" stroke-width="1"/>
<line x1="471.2" y1="523.5" x2="490.2" y2="523.5" stroke="#000" stroke-width="1"/>
<line x1="471.2" y1="527.3" x2="490.2" y2="527.3" stroke="#000" stroke-width="1"/>
<polygon points="420.55,501.9 424.45,501.9 422.5,505.3" fill="#000"/>
<polygon points="418.05,508.7 421.95,508.7 420,512.1" fill="#000"/>
<polygon points="423.75,509.1 427.65,509.1 425.7,512.5" fill="#000"/>
<polygon points="418.05,511.9 421.95,511.9 420,515.3" fill="#000"/>
<polygon points="423.75,511.9 427.65,511.9 425.7,515.3" fill="#000"/>
<polygon points="420.55,519.3 424.45,519.3 422.5,522.7" fill="#000"/>
<rect x="479.05" y="516.75" width="3.3" height="3.3" fill="#000"/>
<rect x="476.95" y="520.35" width="3.3" height="3.3" fill="#000"/>
<rect x="481.75" y="521.05" width="3.3" height="3.3" fill="#000"/>
<rect x="475.85" y="526.75" width="3.3" height="3.3" fill="#000"/>
<rect x="482.25" y="527.75" width="3.3" height="3.3" fill="#000"/>
<rect x="475.85" y="528.85" width="3.3" height="3.3" fill="#000"/>
<line x1="421.4" y1="497.3" x2="479.6" y2="497.3" stroke="#222" stroke-width="1.3"/>
<text x="448.8" y="495.65" font-size="7" text-anchor="middle" font-weight="bold" fill="#000" stroke="#000" stroke-width="0.35">*</text>
<text transform="translate(353.6,529) rotate(-90)" font-size="7.6" text-anchor="middle" font-weight="bold" fill="#000">DC-SIGN MFI</text>
<text x="420" y="582.5" font-size="8.6" text-anchor="middle" font-weight="bold" fill="#000">IgG4</text>
<text x="477.2" y="582.5" font-size="8.6" text-anchor="middle" font-weight="bold" fill="#000">Anti-LILRB2</text>
<text x="453.2" y="486.5" font-size="8.2" text-anchor="middle" font-weight="bold" fill="#000">DC-SIGN in DCs</text>
</svg>
</body></html>
